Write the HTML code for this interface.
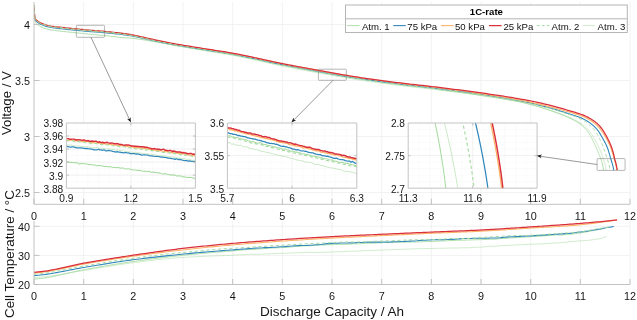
<!DOCTYPE html>
<html><head><meta charset="utf-8"><title>1C-rate discharge</title>
<style>html,body{margin:0;padding:0;background:#fff;}svg{display:block}</style></head>
<body>
<svg width="637" height="320" viewBox="0 0 637 320" font-family="Liberation Sans, Arial, sans-serif" fill="#161616">
<rect width="637" height="320" fill="#fff"/>
<path d="M83.67,2.0 V204.3 M133.34,2.0 V204.3 M183.01,2.0 V204.3 M232.68,2.0 V204.3 M282.35,2.0 V204.3 M332.02,2.0 V204.3 M381.69,2.0 V204.3 M431.36,2.0 V204.3 M481.03,2.0 V204.3 M530.70,2.0 V204.3 M580.37,2.0 V204.3 M630.04,2.0 V204.3 M34.0,192.50 H630.04 M34.0,136.50 H630.04 M34.0,80.50 H630.04 M34.0,24.50 H630.04" stroke="#ededed" stroke-width="0.7" fill="none"/>
<path d="M83.67,221.0 V284.5 M133.34,221.0 V284.5 M183.01,221.0 V284.5 M232.68,221.0 V284.5 M282.35,221.0 V284.5 M332.02,221.0 V284.5 M381.69,221.0 V284.5 M431.36,221.0 V284.5 M481.03,221.0 V284.5 M530.70,221.0 V284.5 M580.37,221.0 V284.5 M630.04,221.0 V284.5 M34.0,255.40 H630.04 M34.0,226.30 H630.04" stroke="#ededed" stroke-width="0.7" fill="none"/>
<clipPath id="ct"><rect x="34.0" y="0" width="596.04" height="204.3"/></clipPath>
<g clip-path="url(#ct)">
<path d="M34.20,5.00 L34.40,13.78 L34.60,17.95 L34.80,20.30 L35.00,21.10 L35.20,21.66 L35.40,22.08 L35.60,22.43 L35.80,22.76 L36.00,23.04 L36.20,23.30 L36.40,23.53 L36.60,23.73 L36.80,23.93 L37.00,24.11 L37.20,24.29 L37.40,24.47 L37.60,24.64 L37.80,24.81 L38.00,24.97 L38.20,25.13 L38.40,25.29 L38.60,25.44 L38.80,25.59 L39.00,25.73 L39.20,25.87 L39.40,26.00 L39.60,26.13 L39.80,26.26 L40.00,26.38 L41.81,27.30 L43.61,28.00 L45.42,28.62 L47.22,29.14 L49.03,29.56 L50.84,29.91 L52.64,30.18 L54.45,30.42 L56.25,30.65 L58.06,30.87 L59.87,31.09 L61.67,31.29 L63.48,31.49 L65.28,31.69 L67.09,31.88 L68.90,32.06 L70.70,32.24 L72.51,32.42 L74.31,32.60 L76.12,32.77 L77.93,32.95 L79.73,33.14 L81.54,33.33 L83.34,33.52 L85.15,33.71 L86.96,33.90 L88.76,34.09 L90.57,34.27 L92.37,34.44 L94.18,34.61 L95.99,34.78 L97.79,34.95 L99.60,35.12 L101.40,35.29 L103.21,35.46 L105.02,35.64 L106.82,35.83 L108.63,36.02 L110.43,36.22 L112.24,36.43 L114.05,36.64 L115.85,36.85 L117.66,37.07 L119.46,37.30 L121.27,37.51 L123.08,37.66 L124.88,37.76 L126.69,37.85 L128.49,37.95 L130.30,38.09 L132.11,38.26 L133.91,38.45 L135.72,38.67 L137.53,38.91 L139.33,39.18 L141.14,39.46 L142.94,39.75 L144.75,40.05 L146.56,40.34 L148.36,40.63 L150.17,40.93 L151.97,41.24 L153.78,41.55 L155.59,41.86 L157.39,42.18 L159.20,42.50 L161.00,42.83 L162.81,43.16 L164.62,43.48 L166.42,43.81 L168.23,44.13 L170.03,44.45 L171.84,44.77 L173.65,45.09 L175.45,45.41 L177.26,45.73 L179.06,46.04 L180.87,46.35 L182.68,46.65 L184.48,46.95 L186.29,47.25 L188.09,47.54 L189.90,47.83 L191.71,48.12 L193.51,48.42 L195.32,48.71 L197.12,49.00 L198.93,49.28 L200.74,49.57 L202.54,49.86 L204.35,50.14 L206.15,50.43 L207.96,50.71 L209.77,51.00 L211.57,51.28 L213.38,51.56 L215.18,51.84 L216.99,52.11 L218.80,52.39 L220.60,52.67 L222.41,52.95 L224.21,53.24 L226.02,53.53 L227.83,53.83 L229.63,54.14 L231.44,54.45 L233.24,54.78 L235.05,55.11 L236.86,55.45 L238.66,55.80 L240.47,56.16 L242.27,56.51 L244.08,56.88 L245.89,57.25 L247.69,57.62 L249.50,58.00 L251.30,58.40 L253.11,58.79 L254.92,59.19 L256.72,59.59 L258.53,60.00 L260.33,60.39 L262.14,60.79 L263.95,61.19 L265.75,61.59 L267.56,61.99 L269.36,62.39 L271.17,62.78 L272.98,63.18 L274.78,63.57 L276.59,63.95 L278.39,64.32 L280.20,64.69 L282.01,65.06 L283.81,65.42 L285.62,65.78 L287.42,66.14 L289.23,66.49 L291.04,66.84 L292.84,67.19 L294.65,67.53 L296.45,67.87 L298.26,68.21 L300.07,68.55 L301.87,68.88 L303.68,69.21 L305.48,69.54 L307.29,69.88 L309.10,70.21 L310.90,70.54 L312.71,70.87 L314.52,71.20 L316.32,71.53 L318.13,71.86 L319.93,72.18 L321.74,72.51 L323.55,72.84 L325.35,73.16 L327.16,73.49 L328.96,73.81 L330.77,74.14 L332.58,74.47 L334.38,74.79 L336.19,75.12 L337.99,75.45 L339.80,75.77 L341.61,76.09 L343.41,76.41 L345.22,76.72 L347.02,77.02 L348.83,77.32 L350.64,77.62 L352.44,77.91 L354.25,78.20 L356.05,78.49 L357.86,78.77 L359.67,79.05 L361.47,79.33 L363.28,79.60 L365.08,79.86 L366.89,80.13 L368.70,80.39 L370.50,80.64 L372.31,80.90 L374.11,81.15 L375.92,81.40 L377.73,81.66 L379.53,81.91 L381.34,82.17 L383.14,82.42 L384.95,82.68 L386.76,82.93 L388.56,83.18 L390.37,83.42 L392.17,83.67 L393.98,83.91 L395.79,84.14 L397.59,84.38 L399.40,84.61 L401.20,84.84 L403.01,85.07 L404.82,85.29 L406.62,85.52 L408.43,85.74 L410.23,85.96 L412.04,86.17 L413.85,86.39 L415.65,86.60 L417.46,86.81 L419.26,87.01 L421.07,87.22 L422.88,87.43 L424.68,87.65 L426.49,87.86 L428.29,88.08 L430.10,88.31 L431.91,88.54 L433.71,88.78 L435.52,89.02 L437.32,89.27 L439.13,89.52 L440.94,89.77 L442.74,90.02 L444.55,90.27 L446.35,90.51 L448.16,90.75 L449.97,90.99 L451.77,91.22 L453.58,91.46 L455.38,91.69 L457.19,91.93 L459.00,92.17 L460.80,92.41 L462.61,92.66 L464.41,92.92 L466.22,93.17 L468.03,93.43 L469.83,93.69 L471.64,93.96 L473.44,94.22 L475.25,94.49 L477.06,94.76 L478.86,95.04 L480.67,95.31 L482.47,95.59 L484.28,95.88 L486.09,96.16 L487.89,96.45 L489.70,96.73 L491.51,97.02 L493.31,97.31 L495.12,97.60 L496.92,97.88 L498.73,98.17 L500.54,98.46 L502.34,98.75 L504.15,99.05 L505.95,99.35 L507.76,99.66 L509.57,99.97 L511.37,100.29 L513.18,100.62 L514.98,100.96 L516.79,101.30 L518.60,101.64 L520.40,101.99 L522.21,102.42 L524.01,102.86 L525.82,103.31 L527.63,103.78 L529.43,104.25 L531.24,104.73 L533.04,105.22 L534.85,105.72 L536.66,106.24 L538.46,106.76 L540.27,107.30 L542.07,107.85 L543.88,108.41 L545.69,108.99 L547.49,109.58 L549.30,110.18 L551.10,110.81 L552.91,111.44 L554.72,112.09 L556.52,112.76 L558.33,113.44 L560.13,114.13 L561.94,114.83 L563.75,115.54 L565.55,116.28 L567.36,117.06 L569.16,117.87 L570.97,118.72 L572.78,119.61 L574.58,120.54 L576.39,121.55 L578.19,122.67 L580.00,123.90 L580.22,124.06 L580.43,124.22 L580.65,124.38 L580.87,124.55 L581.09,124.72 L581.30,124.89 L581.52,125.06 L581.74,125.24 L581.96,125.42 L582.17,125.60 L582.39,125.79 L582.61,125.98 L582.83,126.17 L583.04,126.36 L583.26,126.56 L583.48,126.76 L583.70,126.97 L583.91,127.18 L584.13,127.39 L584.35,127.60 L584.57,127.82 L584.78,128.05 L585.00,128.27 L585.22,128.50 L585.44,128.74 L585.65,128.98 L585.87,129.23 L586.09,129.49 L586.31,129.76 L586.52,130.03 L586.74,130.31 L586.96,130.60 L587.18,130.89 L587.39,131.19 L587.61,131.50 L587.83,131.81 L588.04,132.13 L588.26,132.45 L588.48,132.78 L588.70,133.11 L588.91,133.45 L589.13,133.79 L589.35,134.14 L589.57,134.49 L589.78,134.84 L590.00,135.20 L590.22,135.56 L590.44,135.92 L590.65,136.28 L590.87,136.65 L591.09,137.02 L591.31,137.40 L591.52,137.79 L591.74,138.19 L591.96,138.59 L592.18,139.00 L592.39,139.42 L592.61,139.84 L592.83,140.27 L593.05,140.71 L593.26,141.15 L593.48,141.60 L593.70,142.05 L593.92,142.51 L594.13,142.97 L594.35,143.43 L594.57,143.90 L594.79,144.37 L595.00,144.85 L595.22,145.32 L595.44,145.81 L595.66,146.30 L595.87,146.80 L596.09,147.31 L596.31,147.84 L596.52,148.36 L596.74,148.90 L596.96,149.44 L597.18,149.98 L597.39,150.52 L597.61,151.06 L597.83,151.61 L598.05,152.15 L598.26,152.68 L598.48,153.21 L598.70,153.74 L598.92,154.24 L599.13,154.73 L599.35,155.21 L599.57,155.68 L599.79,156.16 L600.00,156.64 L600.22,157.14 L600.44,157.65 L600.66,158.20 L600.87,158.77 L601.09,159.37 L601.31,160.03 L601.53,160.73 L601.74,161.48 L601.96,162.29 L602.18,163.15 L602.40,164.04 L602.61,164.99 L602.83,165.96 L603.05,166.98 L603.27,168.02 L603.48,169.10 L603.70,170.20" fill="none" stroke="#A6DBA0" stroke-width="0.90" stroke-opacity="1" stroke-linejoin="round"/>
<path d="M34.20,5.00 L34.40,12.82 L34.60,16.13 L34.80,18.10 L35.00,18.87 L35.20,19.42 L35.40,19.83 L35.60,20.18 L35.80,20.49 L36.00,20.77 L36.20,21.03 L36.40,21.25 L36.60,21.45 L36.80,21.64 L37.00,21.82 L37.20,21.98 L37.40,22.15 L37.60,22.31 L37.80,22.46 L38.00,22.62 L38.20,22.76 L38.40,22.91 L38.60,23.05 L38.80,23.19 L39.00,23.32 L39.20,23.45 L39.40,23.57 L39.60,23.69 L39.80,23.81 L40.00,23.92 L41.81,24.80 L43.61,25.51 L45.42,26.12 L47.22,26.64 L49.03,27.07 L50.84,27.42 L52.64,27.70 L54.45,27.94 L56.25,28.16 L58.06,28.39 L59.87,28.60 L61.67,28.81 L63.48,29.01 L65.28,29.21 L67.09,29.40 L68.90,29.58 L70.70,29.76 L72.51,29.94 L74.31,30.12 L76.12,30.29 L77.93,30.47 L79.73,30.65 L81.54,30.82 L83.34,31.00 L85.15,31.16 L86.96,31.33 L88.76,31.49 L90.57,31.63 L92.37,31.78 L94.18,31.91 L95.99,32.04 L97.79,32.18 L99.60,32.31 L101.40,32.45 L103.21,32.60 L105.02,32.75 L106.82,32.92 L108.63,33.09 L110.43,33.27 L112.24,33.45 L114.05,33.64 L115.85,33.83 L117.66,34.04 L119.46,34.25 L121.27,34.46 L123.08,34.69 L124.88,34.93 L126.69,35.18 L128.49,35.44 L130.30,35.72 L132.11,36.02 L133.91,36.35 L135.72,36.72 L137.53,37.11 L139.33,37.52 L141.14,37.94 L142.94,38.36 L144.75,38.77 L146.56,39.16 L148.36,39.55 L150.17,39.95 L151.97,40.35 L153.78,40.74 L155.59,41.13 L157.39,41.52 L159.20,41.90 L161.00,42.27 L162.81,42.64 L164.62,42.99 L166.42,43.35 L168.23,43.70 L170.03,44.04 L171.84,44.38 L173.65,44.71 L175.45,45.03 L177.26,45.35 L179.06,45.67 L180.87,45.97 L182.68,46.27 L184.48,46.57 L186.29,46.86 L188.09,47.15 L189.90,47.44 L191.71,47.73 L193.51,48.02 L195.32,48.31 L197.12,48.60 L198.93,48.88 L200.74,49.17 L202.54,49.46 L204.35,49.74 L206.15,50.03 L207.96,50.31 L209.77,50.60 L211.57,50.88 L213.38,51.16 L215.18,51.44 L216.99,51.71 L218.80,51.99 L220.60,52.27 L222.41,52.55 L224.21,52.84 L226.02,53.13 L227.83,53.43 L229.63,53.74 L231.44,54.05 L233.24,54.38 L235.05,54.71 L236.86,55.05 L238.66,55.40 L240.47,55.75 L242.27,56.11 L244.08,56.47 L245.89,56.84 L247.69,57.21 L249.50,57.59 L251.30,57.98 L253.11,58.38 L254.92,58.77 L256.72,59.17 L258.53,59.57 L260.33,59.97 L262.14,60.36 L263.95,60.75 L265.75,61.15 L267.56,61.55 L269.36,61.94 L271.17,62.34 L272.98,62.73 L274.78,63.11 L276.59,63.49 L278.39,63.87 L280.20,64.23 L282.01,64.60 L283.81,64.96 L285.62,65.31 L287.42,65.66 L289.23,66.01 L291.04,66.36 L292.84,66.71 L294.65,67.05 L296.45,67.39 L298.26,67.72 L300.07,68.06 L301.87,68.39 L303.68,68.72 L305.48,69.05 L307.29,69.38 L309.10,69.71 L310.90,70.04 L312.71,70.37 L314.52,70.70 L316.32,71.03 L318.13,71.36 L319.93,71.68 L321.74,72.01 L323.55,72.34 L325.35,72.66 L327.16,72.99 L328.96,73.31 L330.77,73.64 L332.58,73.97 L334.38,74.29 L336.19,74.62 L337.99,74.95 L339.80,75.27 L341.61,75.59 L343.41,75.91 L345.22,76.22 L347.02,76.52 L348.83,76.82 L350.64,77.12 L352.44,77.41 L354.25,77.70 L356.05,77.98 L357.86,78.27 L359.67,78.54 L361.47,78.81 L363.28,79.08 L365.08,79.34 L366.89,79.60 L368.70,79.86 L370.50,80.11 L372.31,80.36 L374.11,80.61 L375.92,80.85 L377.73,81.10 L379.53,81.35 L381.34,81.60 L383.14,81.85 L384.95,82.09 L386.76,82.34 L388.56,82.58 L390.37,82.82 L392.17,83.05 L393.98,83.29 L395.79,83.51 L397.59,83.74 L399.40,83.96 L401.20,84.18 L403.01,84.40 L404.82,84.62 L406.62,84.84 L408.43,85.05 L410.23,85.26 L412.04,85.47 L413.85,85.67 L415.65,85.87 L417.46,86.07 L419.26,86.27 L421.07,86.47 L422.88,86.67 L424.68,86.88 L426.49,87.08 L428.29,87.29 L430.10,87.51 L431.91,87.73 L433.71,87.96 L435.52,88.20 L437.32,88.44 L439.13,88.68 L440.94,88.92 L442.74,89.15 L444.55,89.39 L446.35,89.62 L448.16,89.85 L449.97,90.07 L451.77,90.29 L453.58,90.51 L455.38,90.74 L457.19,90.96 L459.00,91.19 L460.80,91.42 L462.61,91.66 L464.41,91.90 L466.22,92.15 L468.03,92.39 L469.83,92.64 L471.64,92.90 L473.44,93.15 L475.25,93.41 L477.06,93.68 L478.86,93.94 L480.67,94.21 L482.47,94.48 L484.28,94.76 L486.09,95.04 L487.89,95.33 L489.70,95.62 L491.51,95.90 L493.31,96.19 L495.12,96.48 L496.92,96.78 L498.73,97.07 L500.54,97.36 L502.34,97.66 L504.15,97.96 L505.95,98.27 L507.76,98.59 L509.57,98.91 L511.37,99.24 L513.18,99.58 L514.98,99.93 L516.79,100.28 L518.60,100.63 L520.40,100.97 L522.21,101.31 L524.01,101.66 L525.82,102.03 L527.63,102.40 L529.43,102.79 L531.24,103.19 L533.04,103.60 L534.85,104.03 L536.66,104.48 L538.46,104.94 L540.27,105.41 L542.07,105.89 L543.88,106.37 L545.69,106.86 L547.49,107.34 L549.30,107.83 L551.10,108.32 L552.91,108.82 L554.72,109.33 L556.52,109.85 L558.33,110.39 L560.13,110.93 L561.94,111.49 L563.75,112.06 L565.55,112.64 L567.36,113.23 L569.16,113.82 L570.97,114.42 L572.78,115.00 L574.58,115.58 L576.39,116.17 L578.19,116.80 L580.00,117.48 L580.31,117.60 L580.62,117.73 L580.93,117.86 L581.24,117.99 L581.55,118.12 L581.86,118.26 L582.17,118.40 L582.48,118.54 L582.79,118.68 L583.10,118.83 L583.41,118.98 L583.72,119.14 L584.03,119.30 L584.34,119.46 L584.65,119.62 L584.96,119.79 L585.27,119.96 L585.58,120.13 L585.89,120.30 L586.20,120.48 L586.51,120.66 L586.82,120.85 L587.13,121.04 L587.44,121.23 L587.75,121.42 L588.06,121.62 L588.37,121.82 L588.68,122.02 L588.99,122.23 L589.30,122.44 L589.61,122.66 L589.92,122.88 L590.23,123.10 L590.54,123.33 L590.85,123.57 L591.16,123.81 L591.47,124.05 L591.78,124.30 L592.09,124.56 L592.40,124.82 L592.71,125.08 L593.02,125.35 L593.33,125.63 L593.64,125.91 L593.95,126.19 L594.26,126.48 L594.57,126.78 L594.88,127.08 L595.19,127.39 L595.50,127.72 L595.81,128.05 L596.12,128.39 L596.43,128.75 L596.74,129.11 L597.06,129.48 L597.37,129.87 L597.68,130.26 L597.99,130.67 L598.30,131.08 L598.61,131.51 L598.92,131.95 L599.23,132.40 L599.54,132.88 L599.85,133.37 L600.16,133.87 L600.47,134.39 L600.78,134.92 L601.09,135.45 L601.40,136.00 L601.71,136.55 L602.02,137.11 L602.33,137.67 L602.64,138.24 L602.95,138.80 L603.26,139.37 L603.57,139.93 L603.88,140.49 L604.19,141.05 L604.50,141.61 L604.81,142.18 L605.12,142.77 L605.43,143.36 L605.74,143.98 L606.05,144.61 L606.36,145.27 L606.67,145.96 L606.98,146.67 L607.29,147.42 L607.60,148.21 L607.91,149.08 L608.22,150.02 L608.53,151.01 L608.84,152.04 L609.15,153.11 L609.46,154.20 L609.77,155.29 L610.08,156.38 L610.39,157.45 L610.70,158.50 L611.01,159.50 L611.32,160.49 L611.63,161.47 L611.94,162.48 L612.25,163.54 L612.56,164.66 L612.87,165.89 L613.18,167.23 L613.49,168.68 L613.80,170.20" fill="none" stroke="#3288BD" stroke-width="1.10" stroke-opacity="1" stroke-linejoin="round"/>
<path d="M34.20,5.00 L34.40,12.44 L34.60,15.41 L34.80,17.20 L35.00,17.93 L35.20,18.44 L35.40,18.82 L35.60,19.14 L35.80,19.43 L36.00,19.70 L36.20,19.94 L36.40,20.15 L36.60,20.35 L36.80,20.53 L37.00,20.70 L37.20,20.87 L37.40,21.03 L37.60,21.19 L37.80,21.34 L38.00,21.49 L38.20,21.64 L38.40,21.78 L38.60,21.92 L38.80,22.05 L39.00,22.18 L39.20,22.31 L39.40,22.43 L39.60,22.55 L39.80,22.67 L40.00,22.78 L41.81,23.65 L43.61,24.36 L45.42,24.97 L47.22,25.50 L49.03,25.93 L50.84,26.27 L52.64,26.55 L54.45,26.79 L56.25,27.02 L58.06,27.25 L59.87,27.46 L61.67,27.67 L63.48,27.87 L65.28,28.07 L67.09,28.26 L68.90,28.45 L70.70,28.63 L72.51,28.81 L74.31,28.99 L76.12,29.16 L77.93,29.34 L79.73,29.52 L81.54,29.70 L83.34,29.88 L85.15,30.05 L86.96,30.22 L88.76,30.39 L90.57,30.54 L92.37,30.69 L94.18,30.84 L95.99,30.98 L97.79,31.12 L99.60,31.27 L101.40,31.42 L103.21,31.57 L105.02,31.74 L106.82,31.91 L108.63,32.09 L110.43,32.28 L112.24,32.47 L114.05,32.66 L115.85,32.87 L117.66,33.08 L119.46,33.30 L121.27,33.52 L123.08,33.76 L124.88,34.00 L126.69,34.26 L128.49,34.53 L130.30,34.81 L132.11,35.12 L133.91,35.46 L135.72,35.83 L137.53,36.22 L139.33,36.64 L141.14,37.06 L142.94,37.48 L144.75,37.89 L146.56,38.29 L148.36,38.68 L150.17,39.08 L151.97,39.48 L153.78,39.88 L155.59,40.27 L157.39,40.66 L159.20,41.05 L161.00,41.42 L162.81,41.78 L164.62,42.15 L166.42,42.50 L168.23,42.85 L170.03,43.20 L171.84,43.54 L173.65,43.88 L175.45,44.20 L177.26,44.53 L179.06,44.84 L180.87,45.15 L182.68,45.45 L184.48,45.75 L186.29,46.05 L188.09,46.34 L189.90,46.63 L191.71,46.92 L193.51,47.22 L195.32,47.51 L197.12,47.80 L198.93,48.08 L200.74,48.37 L202.54,48.66 L204.35,48.94 L206.15,49.23 L207.96,49.51 L209.77,49.80 L211.57,50.08 L213.38,50.36 L215.18,50.64 L216.99,50.91 L218.80,51.19 L220.60,51.47 L222.41,51.75 L224.21,52.04 L226.02,52.33 L227.83,52.63 L229.63,52.94 L231.44,53.25 L233.24,53.58 L235.05,53.91 L236.86,54.25 L238.66,54.60 L240.47,54.95 L242.27,55.31 L244.08,55.67 L245.89,56.04 L247.69,56.41 L249.50,56.79 L251.30,57.18 L253.11,57.58 L254.92,57.97 L256.72,58.37 L258.53,58.77 L260.33,59.17 L262.14,59.56 L263.95,59.95 L265.75,60.35 L267.56,60.75 L269.36,61.14 L271.17,61.54 L272.98,61.93 L274.78,62.31 L276.59,62.69 L278.39,63.07 L280.20,63.43 L282.01,63.80 L283.81,64.16 L285.62,64.51 L287.42,64.86 L289.23,65.21 L291.04,65.56 L292.84,65.91 L294.65,66.25 L296.45,66.59 L298.26,66.92 L300.07,67.26 L301.87,67.59 L303.68,67.92 L305.48,68.25 L307.29,68.58 L309.10,68.91 L310.90,69.24 L312.71,69.57 L314.52,69.90 L316.32,70.23 L318.13,70.56 L319.93,70.88 L321.74,71.21 L323.55,71.54 L325.35,71.86 L327.16,72.19 L328.96,72.51 L330.77,72.84 L332.58,73.17 L334.38,73.49 L336.19,73.82 L337.99,74.15 L339.80,74.47 L341.61,74.79 L343.41,75.11 L345.22,75.42 L347.02,75.72 L348.83,76.02 L350.64,76.32 L352.44,76.61 L354.25,76.90 L356.05,77.19 L357.86,77.47 L359.67,77.75 L361.47,78.02 L363.28,78.29 L365.08,78.55 L366.89,78.81 L368.70,79.06 L370.50,79.32 L372.31,79.57 L374.11,79.82 L375.92,80.07 L377.73,80.32 L379.53,80.57 L381.34,80.82 L383.14,81.07 L384.95,81.32 L386.76,81.57 L388.56,81.81 L390.37,82.05 L392.17,82.29 L393.98,82.52 L395.79,82.75 L397.59,82.98 L399.40,83.21 L401.20,83.43 L403.01,83.66 L404.82,83.88 L406.62,84.09 L408.43,84.31 L410.23,84.52 L412.04,84.73 L413.85,84.94 L415.65,85.15 L417.46,85.35 L419.26,85.55 L421.07,85.75 L422.88,85.96 L424.68,86.16 L426.49,86.37 L428.29,86.59 L430.10,86.81 L431.91,87.04 L433.71,87.27 L435.52,87.51 L437.32,87.75 L439.13,88.00 L440.94,88.24 L442.74,88.49 L444.55,88.73 L446.35,88.96 L448.16,89.20 L449.97,89.43 L451.77,89.65 L453.58,89.88 L455.38,90.11 L457.19,90.34 L459.00,90.58 L460.80,90.82 L462.61,91.06 L464.41,91.31 L466.22,91.56 L468.03,91.81 L469.83,92.07 L471.64,92.33 L473.44,92.59 L475.25,92.85 L477.06,93.12 L478.86,93.39 L480.67,93.66 L482.47,93.94 L484.28,94.22 L486.09,94.50 L487.89,94.78 L489.70,95.07 L491.51,95.35 L493.31,95.64 L495.12,95.92 L496.92,96.20 L498.73,96.49 L500.54,96.78 L502.34,97.07 L504.15,97.36 L505.95,97.66 L507.76,97.97 L509.57,98.28 L511.37,98.60 L513.18,98.93 L514.98,99.26 L516.79,99.60 L518.60,99.94 L520.40,100.27 L522.21,100.60 L524.01,100.94 L525.82,101.29 L527.63,101.65 L529.43,102.01 L531.24,102.39 L533.04,102.77 L534.85,103.16 L536.66,103.57 L538.46,103.98 L540.27,104.41 L542.07,104.85 L543.88,105.30 L545.69,105.76 L547.49,106.21 L549.30,106.67 L551.10,107.12 L552.91,107.58 L554.72,108.04 L556.52,108.51 L558.33,108.98 L560.13,109.46 L561.94,109.95 L563.75,110.45 L565.55,110.95 L567.36,111.47 L569.16,111.99 L570.97,112.53 L572.78,113.07 L574.58,113.63 L576.39,114.18 L578.19,114.74 L580.00,115.35 L580.34,115.47 L580.68,115.59 L581.02,115.71 L581.36,115.84 L581.69,115.97 L582.03,116.10 L582.37,116.24 L582.71,116.38 L583.05,116.52 L583.39,116.66 L583.73,116.81 L584.07,116.96 L584.41,117.11 L584.75,117.27 L585.08,117.42 L585.42,117.58 L585.76,117.75 L586.10,117.92 L586.44,118.09 L586.78,118.26 L587.12,118.43 L587.46,118.61 L587.80,118.79 L588.14,118.98 L588.47,119.17 L588.81,119.36 L589.15,119.55 L589.49,119.75 L589.83,119.95 L590.17,120.15 L590.51,120.36 L590.85,120.58 L591.19,120.80 L591.53,121.03 L591.86,121.27 L592.20,121.51 L592.54,121.75 L592.88,122.00 L593.22,122.26 L593.56,122.52 L593.90,122.79 L594.24,123.06 L594.58,123.33 L594.92,123.61 L595.25,123.90 L595.59,124.18 L595.93,124.48 L596.27,124.78 L596.61,125.09 L596.95,125.41 L597.29,125.74 L597.63,126.07 L597.97,126.42 L598.31,126.77 L598.64,127.14 L598.98,127.51 L599.32,127.89 L599.66,128.29 L600.00,128.71 L600.34,129.14 L600.68,129.59 L601.02,130.05 L601.36,130.53 L601.70,131.01 L602.03,131.51 L602.37,132.01 L602.71,132.52 L603.05,133.03 L603.39,133.55 L603.73,134.07 L604.07,134.61 L604.41,135.16 L604.75,135.72 L605.09,136.29 L605.42,136.86 L605.76,137.45 L606.10,138.05 L606.44,138.66 L606.78,139.28 L607.12,139.90 L607.46,140.52 L607.80,141.16 L608.14,141.81 L608.48,142.47 L608.81,143.16 L609.15,143.86 L609.49,144.60 L609.83,145.36 L610.17,146.15 L610.51,146.99 L610.85,147.88 L611.19,148.81 L611.53,149.78 L611.87,150.78 L612.20,151.83 L612.54,152.90 L612.88,154.03 L613.22,155.24 L613.56,156.51 L613.90,157.80 L614.24,159.08 L614.58,160.32 L614.92,161.50 L615.26,162.65 L615.59,163.83 L615.93,165.12 L616.27,166.59 L616.61,168.31 L616.95,170.20" fill="none" stroke="#FDB366" stroke-width="1.10" stroke-opacity="1" stroke-linejoin="round"/>
<path d="M34.20,5.00 L34.40,12.40 L34.60,15.33 L34.80,17.10 L35.00,17.82 L35.20,18.32 L35.40,18.69 L35.60,19.00 L35.80,19.29 L36.00,19.55 L36.20,19.78 L36.40,19.99 L36.60,20.18 L36.80,20.35 L37.00,20.52 L37.20,20.68 L37.40,20.84 L37.60,20.99 L37.80,21.14 L38.00,21.28 L38.20,21.43 L38.40,21.56 L38.60,21.70 L38.80,21.83 L39.00,21.96 L39.20,22.08 L39.40,22.20 L39.60,22.32 L39.80,22.43 L40.00,22.54 L41.84,23.42 L43.68,24.13 L45.52,24.75 L47.36,25.27 L49.20,25.70 L51.04,26.04 L52.88,26.32 L54.72,26.56 L56.56,26.78 L58.39,27.01 L60.23,27.23 L62.07,27.44 L63.91,27.64 L65.75,27.84 L67.59,28.03 L69.43,28.22 L71.27,28.40 L73.11,28.58 L74.95,28.76 L76.79,28.94 L78.63,29.12 L80.47,29.30 L82.31,29.48 L84.15,29.66 L85.99,29.83 L87.83,30.00 L89.67,30.17 L91.51,30.32 L93.34,30.47 L95.18,30.62 L97.02,30.76 L98.86,30.91 L100.70,31.06 L102.54,31.21 L104.38,31.38 L106.22,31.55 L108.06,31.73 L109.90,31.92 L111.74,32.11 L113.58,32.31 L115.42,32.52 L117.26,32.73 L119.10,32.95 L120.94,33.18 L122.78,33.42 L124.62,33.66 L126.45,33.92 L128.29,34.20 L130.13,34.49 L131.97,34.80 L133.81,35.14 L135.65,35.51 L137.49,35.91 L139.33,36.34 L141.17,36.77 L143.01,37.19 L144.85,37.61 L146.69,38.02 L148.53,38.42 L150.37,38.83 L152.21,39.23 L154.05,39.64 L155.89,40.04 L157.73,40.43 L159.57,40.82 L161.40,41.20 L163.24,41.57 L165.08,41.94 L166.92,42.30 L168.76,42.66 L170.60,43.01 L172.44,43.35 L174.28,43.69 L176.12,44.03 L177.96,44.35 L179.80,44.67 L181.64,44.98 L183.48,45.29 L185.32,45.59 L187.16,45.89 L189.00,46.19 L190.84,46.48 L192.68,46.78 L194.52,47.08 L196.35,47.37 L198.19,47.67 L200.03,47.96 L201.87,48.25 L203.71,48.54 L205.55,48.83 L207.39,49.12 L209.23,49.42 L211.07,49.70 L212.91,49.99 L214.75,50.27 L216.59,50.55 L218.43,50.83 L220.27,51.12 L222.11,51.40 L223.95,51.69 L225.79,51.99 L227.63,52.29 L229.46,52.61 L231.30,52.93 L233.14,53.26 L234.98,53.60 L236.82,53.95 L238.66,54.30 L240.50,54.66 L242.34,55.02 L244.18,55.39 L246.02,55.77 L247.86,56.15 L249.70,56.54 L251.54,56.93 L253.38,57.34 L255.22,57.74 L257.06,58.15 L258.90,58.55 L260.74,58.96 L262.58,59.36 L264.41,59.76 L266.25,60.16 L268.09,60.57 L269.93,60.97 L271.77,61.37 L273.61,61.77 L275.45,62.16 L277.29,62.54 L279.13,62.92 L280.97,63.29 L282.81,63.66 L284.65,64.02 L286.49,64.38 L288.33,64.74 L290.17,65.10 L292.01,65.45 L293.85,65.80 L295.69,66.15 L297.53,66.49 L299.36,66.83 L301.20,67.17 L303.04,67.50 L304.88,67.84 L306.72,68.17 L308.56,68.51 L310.40,68.85 L312.24,69.18 L314.08,69.52 L315.92,69.85 L317.76,70.19 L319.60,70.52 L321.44,70.86 L323.28,71.19 L325.12,71.52 L326.96,71.85 L328.80,72.18 L330.64,72.51 L332.47,72.85 L334.31,73.18 L336.15,73.52 L337.99,73.85 L339.83,74.18 L341.67,74.51 L343.51,74.83 L345.35,75.14 L347.19,75.45 L349.03,75.75 L350.87,76.06 L352.71,76.35 L354.55,76.65 L356.39,76.94 L358.23,77.22 L360.07,77.50 L361.91,77.78 L363.75,78.04 L365.59,78.31 L367.42,78.57 L369.26,78.83 L371.10,79.08 L372.94,79.33 L374.78,79.58 L376.62,79.83 L378.46,80.09 L380.30,80.34 L382.14,80.59 L383.98,80.84 L385.82,81.09 L387.66,81.33 L389.50,81.57 L391.34,81.81 L393.18,82.05 L395.02,82.28 L396.86,82.51 L398.70,82.73 L400.54,82.96 L402.37,83.18 L404.21,83.40 L406.05,83.61 L407.89,83.83 L409.73,84.04 L411.57,84.25 L413.41,84.46 L415.25,84.66 L417.09,84.86 L418.93,85.06 L420.77,85.26 L422.61,85.46 L424.45,85.66 L426.29,85.87 L428.13,86.08 L429.97,86.30 L431.81,86.52 L433.65,86.75 L435.48,86.98 L437.32,87.22 L439.16,87.46 L441.00,87.70 L442.84,87.94 L444.68,88.17 L446.52,88.40 L448.36,88.63 L450.20,88.85 L452.04,89.07 L453.88,89.28 L455.72,89.50 L457.56,89.72 L459.40,89.95 L461.24,90.18 L463.08,90.41 L464.92,90.65 L466.76,90.89 L468.60,91.14 L470.43,91.38 L472.27,91.63 L474.11,91.89 L475.95,92.14 L477.79,92.40 L479.63,92.66 L481.47,92.92 L483.31,93.19 L485.15,93.46 L486.99,93.73 L488.83,94.01 L490.67,94.28 L492.51,94.56 L494.35,94.83 L496.19,95.11 L498.03,95.38 L499.87,95.66 L501.71,95.93 L503.55,96.21 L505.38,96.50 L507.22,96.79 L509.06,97.09 L510.90,97.40 L512.74,97.72 L514.58,98.04 L516.42,98.36 L518.26,98.69 L520.10,99.02 L521.94,99.34 L523.78,99.67 L525.62,99.99 L527.46,100.32 L529.30,100.66 L531.14,101.01 L532.98,101.38 L534.82,101.76 L536.66,102.15 L538.49,102.56 L540.33,102.98 L542.17,103.41 L544.01,103.84 L545.85,104.28 L547.69,104.72 L549.53,105.18 L551.37,105.64 L553.21,106.11 L555.05,106.59 L556.89,107.08 L558.73,107.58 L560.57,108.10 L562.41,108.63 L564.25,109.18 L566.09,109.73 L567.93,110.28 L569.77,110.84 L571.61,111.39 L573.44,111.93 L575.28,112.47 L577.12,113.03 L578.96,113.61 L580.80,114.25 L582.64,114.94 L584.48,115.69 L586.32,116.52 L588.16,117.42 L590.00,118.43 L590.27,118.59 L590.55,118.75 L590.82,118.92 L591.10,119.09 L591.37,119.26 L591.65,119.44 L591.92,119.61 L592.20,119.79 L592.47,119.98 L592.75,120.16 L593.02,120.35 L593.30,120.55 L593.57,120.74 L593.85,120.94 L594.12,121.14 L594.40,121.35 L594.67,121.55 L594.95,121.76 L595.22,121.97 L595.49,122.19 L595.77,122.41 L596.04,122.63 L596.32,122.86 L596.59,123.09 L596.87,123.33 L597.14,123.57 L597.42,123.81 L597.69,124.07 L597.97,124.32 L598.24,124.58 L598.52,124.85 L598.79,125.12 L599.07,125.40 L599.34,125.69 L599.62,125.98 L599.89,126.28 L600.17,126.59 L600.44,126.91 L600.72,127.25 L600.99,127.60 L601.26,127.96 L601.54,128.33 L601.81,128.72 L602.09,129.11 L602.36,129.52 L602.64,129.93 L602.91,130.34 L603.19,130.77 L603.46,131.19 L603.74,131.63 L604.01,132.06 L604.29,132.50 L604.56,132.94 L604.84,133.40 L605.11,133.86 L605.39,134.33 L605.66,134.80 L605.94,135.29 L606.21,135.78 L606.48,136.28 L606.76,136.79 L607.03,137.30 L607.31,137.83 L607.58,138.36 L607.86,138.91 L608.13,139.46 L608.41,140.02 L608.68,140.58 L608.96,141.15 L609.23,141.73 L609.51,142.33 L609.78,142.93 L610.06,143.55 L610.33,144.18 L610.61,144.84 L610.88,145.52 L611.16,146.22 L611.43,146.95 L611.71,147.71 L611.98,148.52 L612.25,149.36 L612.53,150.26 L612.80,151.19 L613.08,152.17 L613.35,153.18 L613.63,154.23 L613.90,155.31 L614.18,156.51 L614.45,157.81 L614.73,159.01 L615.00,160.06 L615.28,161.01 L615.55,161.96 L615.83,162.96 L616.10,164.10 L616.38,165.42 L616.65,166.90 L616.93,168.50 L617.20,170.20" fill="none" stroke="#DA2F3C" stroke-width="1.25" stroke-opacity="1" stroke-linejoin="round"/>
<path d="M34.20,5.00 L34.40,12.48 L34.60,15.49 L34.80,17.30 L35.00,18.03 L35.20,18.54 L35.40,18.91 L35.60,19.23 L35.80,19.52 L36.00,19.79 L36.20,20.02 L36.40,20.24 L36.60,20.43 L36.80,20.61 L37.00,20.78 L37.20,20.95 L37.40,21.11 L37.60,21.26 L37.80,21.41 L38.00,21.56 L38.20,21.71 L38.40,21.85 L38.60,21.98 L38.80,22.12 L39.00,22.24 L39.20,22.37 L39.40,22.49 L39.60,22.61 L39.80,22.73 L40.00,22.84 L41.81,23.70 L43.61,24.40 L45.42,25.02 L47.22,25.54 L49.03,25.96 L50.84,26.31 L52.64,26.58 L54.45,26.82 L56.25,27.05 L58.06,27.27 L59.87,27.49 L61.67,27.69 L63.48,27.89 L65.28,28.09 L67.09,28.28 L68.90,28.46 L70.70,28.64 L72.51,28.82 L74.31,29.00 L76.12,29.17 L77.93,29.35 L79.73,29.53 L81.54,29.71 L83.34,29.88 L85.15,30.06 L86.96,30.23 L88.76,30.39 L90.57,30.55 L92.37,30.71 L94.18,30.85 L95.99,31.00 L97.79,31.15 L99.60,31.29 L101.40,31.45 L103.21,31.61 L105.02,31.78 L106.82,31.96 L108.63,32.14 L110.43,32.33 L112.24,32.54 L114.05,32.75 L115.85,32.97 L117.66,33.20 L119.46,33.43 L121.27,33.68 L123.08,33.94 L124.88,34.20 L126.69,34.48 L128.49,34.78 L130.30,35.08 L132.11,35.41 L133.91,35.76 L135.72,36.15 L137.53,36.57 L139.33,37.00 L141.14,37.44 L142.94,37.88 L144.75,38.31 L146.56,38.73 L148.36,39.14 L150.17,39.56 L151.97,39.98 L153.78,40.39 L155.59,40.80 L157.39,41.21 L159.20,41.61 L161.00,42.00 L162.81,42.38 L164.62,42.76 L166.42,43.13 L168.23,43.50 L170.03,43.86 L171.84,44.22 L173.65,44.57 L175.45,44.92 L177.26,45.25 L179.06,45.58 L180.87,45.91 L182.68,46.23 L184.48,46.54 L186.29,46.85 L188.09,47.15 L189.90,47.46 L191.71,47.76 L193.51,48.07 L195.32,48.37 L197.12,48.68 L198.93,48.98 L200.74,49.28 L202.54,49.57 L204.35,49.87 L206.15,50.17 L207.96,50.47 L209.77,50.76 L211.57,51.06 L213.38,51.35 L215.18,51.63 L216.99,51.92 L218.80,52.21 L220.60,52.50 L222.41,52.79 L224.21,53.09 L226.02,53.39 L227.83,53.70 L229.63,54.02 L231.44,54.35 L233.24,54.68 L235.05,55.03 L236.86,55.38 L238.66,55.73 L240.47,56.09 L242.27,56.46 L244.08,56.83 L245.89,57.20 L247.69,57.58 L249.50,57.97 L251.30,58.37 L253.11,58.77 L254.92,59.17 L256.72,59.57 L258.53,59.98 L260.33,60.38 L262.14,60.77 L263.95,61.17 L265.75,61.57 L267.56,61.97 L269.36,62.38 L271.17,62.77 L272.98,63.17 L274.78,63.56 L276.59,63.94 L278.39,64.32 L280.20,64.69 L282.01,65.06 L283.81,65.42 L285.62,65.78 L287.42,66.13 L289.23,66.49 L291.04,66.84 L292.84,67.19 L294.65,67.53 L296.45,67.87 L298.26,68.21 L300.07,68.55 L301.87,68.88 L303.68,69.21 L305.48,69.54 L307.29,69.88 L309.10,70.21 L310.90,70.54 L312.71,70.87 L314.52,71.20 L316.32,71.53 L318.13,71.85 L319.93,72.18 L321.74,72.50 L323.55,72.82 L325.35,73.14 L327.16,73.46 L328.96,73.78 L330.77,74.09 L332.58,74.41 L334.38,74.73 L336.19,75.05 L337.99,75.37 L339.80,75.69 L341.61,76.00 L343.41,76.31 L345.22,76.62 L347.02,76.92 L348.83,77.22 L350.64,77.52 L352.44,77.81 L354.25,78.10 L356.05,78.39 L357.86,78.67 L359.67,78.95 L361.47,79.22 L363.28,79.49 L365.08,79.75 L366.89,80.01 L368.70,80.27 L370.50,80.52 L372.31,80.77 L374.11,81.02 L375.92,81.27 L377.73,81.52 L379.53,81.78 L381.34,82.03 L383.14,82.28 L384.95,82.53 L386.76,82.77 L388.56,83.02 L390.37,83.26 L392.17,83.50 L393.98,83.73 L395.79,83.96 L397.59,84.19 L399.40,84.42 L401.20,84.64 L403.01,84.86 L404.82,85.08 L406.62,85.30 L408.43,85.52 L410.23,85.73 L412.04,85.94 L413.85,86.15 L415.65,86.35 L417.46,86.55 L419.26,86.76 L421.07,86.96 L422.88,87.16 L424.68,87.37 L426.49,87.58 L428.29,87.79 L430.10,88.01 L431.91,88.23 L433.71,88.47 L435.52,88.70 L437.32,88.94 L439.13,89.19 L440.94,89.43 L442.74,89.67 L444.55,89.90 L446.35,90.14 L448.16,90.36 L449.97,90.59 L451.77,90.81 L453.58,91.03 L455.38,91.26 L457.19,91.48 L459.00,91.71 L460.80,91.94 L462.61,92.18 L464.41,92.42 L466.22,92.66 L468.03,92.91 L469.83,93.16 L471.64,93.41 L473.44,93.67 L475.25,93.92 L477.06,94.18 L478.86,94.44 L480.67,94.71 L482.47,94.98 L484.28,95.25 L486.09,95.52 L487.89,95.80 L489.70,96.08 L491.51,96.35 L493.31,96.63 L495.12,96.91 L496.92,97.18 L498.73,97.46 L500.54,97.74 L502.34,98.02 L504.15,98.31 L505.95,98.60 L507.76,98.89 L509.57,99.20 L511.37,99.51 L513.18,99.83 L514.98,100.15 L516.79,100.48 L518.60,100.81 L520.40,101.14 L522.21,101.50 L524.01,101.87 L525.82,102.25 L527.63,102.64 L529.43,103.05 L531.24,103.47 L533.04,103.90 L534.85,104.34 L536.66,104.81 L538.46,105.28 L540.27,105.76 L542.07,106.25 L543.88,106.74 L545.69,107.23 L547.49,107.73 L549.30,108.23 L551.10,108.74 L552.91,109.27 L554.72,109.80 L556.52,110.35 L558.33,110.92 L560.13,111.49 L561.94,112.08 L563.75,112.68 L565.55,113.29 L567.36,113.90 L569.16,114.52 L570.97,115.13 L572.78,115.74 L574.58,116.38 L576.39,117.07 L578.19,117.82 L580.00,118.65 L580.28,118.78 L580.55,118.92 L580.83,119.06 L581.11,119.20 L581.38,119.34 L581.66,119.49 L581.94,119.64 L582.21,119.79 L582.49,119.94 L582.77,120.10 L583.04,120.26 L583.32,120.42 L583.60,120.58 L583.87,120.74 L584.15,120.91 L584.43,121.08 L584.70,121.25 L584.98,121.43 L585.26,121.60 L585.53,121.78 L585.81,121.97 L586.09,122.15 L586.36,122.34 L586.64,122.53 L586.92,122.73 L587.20,122.93 L587.47,123.13 L587.75,123.34 L588.03,123.55 L588.30,123.77 L588.58,123.99 L588.86,124.21 L589.13,124.44 L589.41,124.68 L589.69,124.91 L589.96,125.16 L590.24,125.41 L590.52,125.66 L590.79,125.92 L591.07,126.18 L591.35,126.45 L591.62,126.73 L591.90,127.01 L592.18,127.30 L592.45,127.61 L592.73,127.92 L593.01,128.23 L593.28,128.56 L593.56,128.90 L593.84,129.24 L594.11,129.60 L594.39,129.96 L594.67,130.33 L594.94,130.71 L595.22,131.10 L595.50,131.49 L595.77,131.90 L596.05,132.34 L596.33,132.79 L596.60,133.26 L596.88,133.74 L597.16,134.23 L597.43,134.74 L597.71,135.25 L597.99,135.77 L598.26,136.29 L598.54,136.81 L598.82,137.34 L599.09,137.87 L599.37,138.40 L599.65,138.94 L599.92,139.49 L600.20,140.05 L600.48,140.63 L600.76,141.21 L601.03,141.81 L601.31,142.42 L601.59,143.05 L601.86,143.70 L602.14,144.38 L602.42,145.07 L602.69,145.79 L602.97,146.51 L603.25,147.26 L603.52,148.01 L603.80,148.77 L604.08,149.53 L604.35,150.30 L604.63,151.08 L604.91,151.87 L605.18,152.68 L605.46,153.49 L605.74,154.32 L606.01,155.15 L606.29,155.99 L606.57,156.84 L606.84,157.68 L607.12,158.51 L607.40,159.34 L607.67,160.18 L607.95,161.04 L608.23,161.94 L608.50,162.89 L608.78,163.90 L609.06,165.00 L609.33,166.20 L609.61,167.47 L609.89,168.81 L610.16,170.20" fill="none" stroke="#A6DBA0" stroke-width="1.00" stroke-opacity="1" stroke-linejoin="round" stroke-dasharray="3.3 2.5"/>
<path d="M34.20,5.00 L34.40,12.56 L34.60,15.64 L34.80,17.50 L35.00,18.25 L35.20,18.78 L35.40,19.17 L35.60,19.50 L35.80,19.81 L36.00,20.09 L36.20,20.34 L36.40,20.57 L36.60,20.78 L36.80,20.97 L37.00,21.15 L37.20,21.32 L37.40,21.50 L37.60,21.66 L37.80,21.82 L38.00,21.98 L38.20,22.13 L38.40,22.28 L38.60,22.42 L38.80,22.56 L39.00,22.69 L39.20,22.83 L39.40,22.95 L39.60,23.08 L39.80,23.19 L40.00,23.31 L41.81,24.20 L43.61,24.93 L45.42,25.56 L47.22,26.10 L49.03,26.54 L50.84,26.90 L52.64,27.19 L54.45,27.44 L56.25,27.68 L58.06,27.91 L59.87,28.14 L61.67,28.36 L63.48,28.56 L65.28,28.77 L67.09,28.96 L68.90,29.15 L70.70,29.34 L72.51,29.52 L74.31,29.69 L76.12,29.87 L77.93,30.05 L79.73,30.23 L81.54,30.41 L83.34,30.58 L85.15,30.75 L86.96,30.92 L88.76,31.09 L90.57,31.24 L92.37,31.39 L94.18,31.54 L95.99,31.68 L97.79,31.82 L99.60,31.97 L101.40,32.12 L103.21,32.27 L105.02,32.44 L106.82,32.61 L108.63,32.79 L110.43,32.98 L112.24,33.17 L114.05,33.38 L115.85,33.60 L117.66,33.82 L119.46,34.06 L121.27,34.30 L123.08,34.55 L124.88,34.82 L126.69,35.09 L128.49,35.38 L130.30,35.69 L132.11,36.01 L133.91,36.36 L135.72,36.75 L137.53,37.16 L139.33,37.59 L141.14,38.03 L142.94,38.47 L144.75,38.90 L146.56,39.32 L148.36,39.73 L150.17,40.15 L151.97,40.57 L153.78,40.98 L155.59,41.40 L157.39,41.80 L159.20,42.21 L161.00,42.60 L162.81,42.98 L164.62,43.36 L166.42,43.74 L168.23,44.11 L170.03,44.48 L171.84,44.84 L173.65,45.19 L175.45,45.54 L177.26,45.89 L179.06,46.22 L180.87,46.55 L182.68,46.88 L184.48,47.19 L186.29,47.51 L188.09,47.82 L189.90,48.13 L191.71,48.44 L193.51,48.75 L195.32,49.06 L197.12,49.37 L198.93,49.67 L200.74,49.98 L202.54,50.28 L204.35,50.58 L206.15,50.88 L207.96,51.18 L209.77,51.48 L211.57,51.78 L213.38,52.07 L215.18,52.36 L216.99,52.65 L218.80,52.94 L220.60,53.23 L222.41,53.53 L224.21,53.83 L226.02,54.13 L227.83,54.44 L229.63,54.76 L231.44,55.09 L233.24,55.43 L235.05,55.78 L236.86,56.13 L238.66,56.49 L240.47,56.85 L242.27,57.22 L244.08,57.59 L245.89,57.97 L247.69,58.36 L249.50,58.75 L251.30,59.15 L253.11,59.55 L254.92,59.96 L256.72,60.37 L258.53,60.78 L260.33,61.19 L262.14,61.59 L263.95,62.00 L265.75,62.41 L267.56,62.81 L269.36,63.22 L271.17,63.63 L272.98,64.03 L274.78,64.43 L276.59,64.82 L278.39,65.21 L280.20,65.58 L282.01,65.96 L283.81,66.33 L285.62,66.70 L287.42,67.06 L289.23,67.42 L291.04,67.78 L292.84,68.14 L294.65,68.49 L296.45,68.83 L298.26,69.18 L300.07,69.52 L301.87,69.86 L303.68,70.20 L305.48,70.53 L307.29,70.87 L309.10,71.20 L310.90,71.53 L312.71,71.87 L314.52,72.20 L316.32,72.53 L318.13,72.86 L319.93,73.18 L321.74,73.51 L323.55,73.84 L325.35,74.16 L327.16,74.49 L328.96,74.81 L330.77,75.14 L332.58,75.47 L334.38,75.79 L336.19,76.12 L337.99,76.45 L339.80,76.77 L341.61,77.09 L343.41,77.41 L345.22,77.72 L347.02,78.02 L348.83,78.32 L350.64,78.62 L352.44,78.91 L354.25,79.20 L356.05,79.48 L357.86,79.76 L359.67,80.04 L361.47,80.31 L363.28,80.58 L365.08,80.84 L366.89,81.09 L368.70,81.35 L370.50,81.60 L372.31,81.85 L374.11,82.09 L375.92,82.34 L377.73,82.59 L379.53,82.83 L381.34,83.08 L383.14,83.33 L384.95,83.57 L386.76,83.81 L388.56,84.05 L390.37,84.29 L392.17,84.52 L393.98,84.75 L395.79,84.98 L397.59,85.20 L399.40,85.42 L401.20,85.64 L403.01,85.85 L404.82,86.07 L406.62,86.28 L408.43,86.49 L410.23,86.70 L412.04,86.90 L413.85,87.10 L415.65,87.30 L417.46,87.50 L419.26,87.69 L421.07,87.89 L422.88,88.09 L424.68,88.29 L426.49,88.49 L428.29,88.70 L430.10,88.91 L431.91,89.13 L433.71,89.36 L435.52,89.59 L437.32,89.82 L439.13,90.06 L440.94,90.29 L442.74,90.53 L444.55,90.76 L446.35,90.98 L448.16,91.20 L449.97,91.42 L451.77,91.63 L453.58,91.85 L455.38,92.06 L457.19,92.28 L459.00,92.50 L460.80,92.72 L462.61,92.95 L464.41,93.19 L466.22,93.42 L468.03,93.66 L469.83,93.90 L471.64,94.15 L473.44,94.39 L475.25,94.64 L477.06,94.89 L478.86,95.15 L480.67,95.41 L482.47,95.67 L484.28,95.94 L486.09,96.20 L487.89,96.48 L489.70,96.75 L491.51,97.03 L493.31,97.30 L495.12,97.58 L496.92,97.85 L498.73,98.13 L500.54,98.41 L502.34,98.70 L504.15,98.98 L505.95,99.28 L507.76,99.58 L509.57,99.88 L511.37,100.20 L513.18,100.52 L514.98,100.85 L516.79,101.18 L518.60,101.51 L520.40,101.86 L522.21,102.29 L524.01,102.73 L525.82,103.17 L527.63,103.63 L529.43,104.09 L531.24,104.56 L533.04,105.05 L534.85,105.54 L536.66,106.05 L538.46,106.56 L540.27,107.09 L542.07,107.63 L543.88,108.18 L545.69,108.75 L547.49,109.32 L549.30,109.91 L551.10,110.51 L552.91,111.13 L554.72,111.76 L556.52,112.40 L558.33,113.06 L560.13,113.73 L561.94,114.40 L563.75,115.08 L565.55,115.77 L567.36,116.48 L569.16,117.23 L570.97,118.01 L572.78,118.84 L574.58,119.71 L576.39,120.64 L578.19,121.65 L580.00,122.76 L580.24,122.92 L580.48,123.07 L580.72,123.23 L580.97,123.40 L581.21,123.56 L581.45,123.73 L581.69,123.90 L581.93,124.07 L582.17,124.25 L582.42,124.43 L582.66,124.61 L582.90,124.79 L583.14,124.97 L583.38,125.16 L583.62,125.36 L583.86,125.55 L584.11,125.75 L584.35,125.95 L584.59,126.15 L584.83,126.36 L585.07,126.57 L585.31,126.79 L585.56,127.01 L585.80,127.24 L586.04,127.47 L586.28,127.71 L586.52,127.95 L586.76,128.20 L587.00,128.46 L587.25,128.71 L587.49,128.98 L587.73,129.25 L587.97,129.52 L588.21,129.80 L588.45,130.08 L588.69,130.37 L588.94,130.66 L589.18,130.95 L589.42,131.25 L589.66,131.55 L589.90,131.86 L590.14,132.19 L590.39,132.52 L590.63,132.85 L590.87,133.20 L591.11,133.56 L591.35,133.92 L591.59,134.28 L591.83,134.65 L592.08,135.03 L592.32,135.41 L592.56,135.79 L592.80,136.18 L593.04,136.57 L593.28,136.96 L593.53,137.35 L593.77,137.75 L594.01,138.15 L594.25,138.56 L594.49,138.98 L594.73,139.39 L594.97,139.82 L595.22,140.25 L595.46,140.68 L595.70,141.12 L595.94,141.56 L596.18,142.01 L596.42,142.46 L596.67,142.92 L596.91,143.39 L597.15,143.86 L597.39,144.33 L597.63,144.81 L597.87,145.29 L598.11,145.79 L598.36,146.28 L598.60,146.79 L598.84,147.30 L599.08,147.82 L599.32,148.35 L599.56,148.88 L599.80,149.43 L600.05,149.98 L600.29,150.54 L600.53,151.12 L600.77,151.71 L601.01,152.31 L601.25,152.91 L601.50,153.53 L601.74,154.16 L601.98,154.81 L602.22,155.46 L602.46,156.12 L602.70,156.79 L602.94,157.47 L603.19,158.15 L603.43,158.83 L603.67,159.52 L603.91,160.23 L604.15,160.97 L604.39,161.74 L604.64,162.55 L604.88,163.41 L605.12,164.33 L605.36,165.36 L605.60,166.47 L605.84,167.66 L606.08,168.91 L606.33,170.20" fill="none" stroke="#A6DBA0" stroke-width="0.80" stroke-opacity="0.65" stroke-linejoin="round"/>
</g>
<path d="M34.0,2.0 V204.3 H630.04 M34.00,204.3 v-5.5 M83.67,204.3 v-5.5 M133.34,204.3 v-5.5 M183.01,204.3 v-5.5 M232.68,204.3 v-5.5 M282.35,204.3 v-5.5 M332.02,204.3 v-5.5 M381.69,204.3 v-5.5 M431.36,204.3 v-5.5 M481.03,204.3 v-5.5 M530.70,204.3 v-5.5 M580.37,204.3 v-5.5 M630.04,204.3 v-5.5 M34.0,192.50 h5.5 M34.0,136.50 h5.5 M34.0,80.50 h5.5 M34.0,24.50 h5.5" stroke="#bcbcbc" stroke-width="0.9" fill="none"/>
<g font-size="10.8" text-anchor="middle">
<text x="34.00" y="220.1">0</text>
<text x="83.67" y="220.1">1</text>
<text x="133.34" y="220.1">2</text>
<text x="183.01" y="220.1">3</text>
<text x="232.68" y="220.1">4</text>
<text x="282.35" y="220.1">5</text>
<text x="332.02" y="220.1">6</text>
<text x="381.69" y="220.1">7</text>
<text x="431.36" y="220.1">8</text>
<text x="481.03" y="220.1">9</text>
<text x="530.70" y="220.1">10</text>
<text x="580.37" y="220.1">11</text>
<text x="630.04" y="220.1">12</text>
</g>
<g font-size="10.8" text-anchor="end">
<text x="30" y="197.40">2.5</text>
<text x="30" y="141.40">3</text>
<text x="30" y="85.40">3.5</text>
<text x="30" y="29.40">4</text>
</g>
<text transform="translate(10.9,103.1) rotate(-90)" font-size="13.2" text-anchor="middle">Voltage / V</text>
<g>
<path d="M34.00,277.80 L36.21,277.63 L38.42,277.45 L40.63,277.23 L42.84,276.99 L45.05,276.72 L47.26,276.44 L49.48,276.14 L51.69,275.82 L53.90,275.48 L56.11,275.14 L58.32,274.78 L60.53,274.42 L62.74,274.04 L64.95,273.67 L67.16,273.28 L69.37,272.90 L71.58,272.52 L73.79,272.13 L76.01,271.76 L78.22,271.38 L80.43,271.02 L82.64,270.66 L84.85,270.31 L87.06,269.96 L89.27,269.61 L91.48,269.25 L93.69,268.88 L95.90,268.52 L98.11,268.15 L100.32,267.78 L102.54,267.41 L104.75,267.04 L106.96,266.67 L109.17,266.31 L111.38,265.95 L113.59,265.59 L115.80,265.24 L118.01,264.89 L120.22,264.55 L122.43,264.22 L124.64,263.89 L126.85,263.57 L129.06,263.26 L131.28,262.97 L133.49,262.68 L135.70,262.40 L137.91,262.12 L140.12,261.84 L142.33,261.56 L144.54,261.28 L146.75,261.01 L148.96,260.74 L151.17,260.47 L153.38,260.21 L155.59,259.95 L157.81,259.69 L160.02,259.44 L162.23,259.20 L164.44,258.97 L166.65,258.74 L168.86,258.51 L171.07,258.31 L173.28,258.10 L175.49,257.92 L177.70,257.74 L179.91,257.60 L182.12,257.44 L184.34,257.28 L186.55,257.16 L188.76,257.05 L190.97,256.94 L193.18,256.85 L195.39,256.75 L197.60,256.65 L199.81,256.52 L202.02,256.40 L204.23,256.29 L206.44,256.20 L208.65,256.11 L210.86,256.01 L213.08,255.95 L215.29,255.87 L217.50,255.80 L219.71,255.71 L221.92,255.66 L224.13,255.61 L226.34,255.55 L228.55,255.44 L230.76,255.33 L232.97,255.16 L235.18,255.01 L237.39,254.88 L239.61,254.77 L241.82,254.65 L244.03,254.64 L246.24,254.50 L248.45,254.44 L250.66,254.35 L252.87,254.35 L255.08,254.35 L257.29,254.27 L259.50,254.27 L261.71,254.20 L263.92,253.97 L266.14,253.93 L268.35,253.89 L270.56,253.75 L272.77,253.66 L274.98,253.55 L277.19,253.54 L279.40,253.44 L281.61,253.34 L283.82,253.30 L286.03,253.23 L288.24,253.05 L290.45,252.97 L292.66,252.91 L294.88,252.77 L297.09,252.70 L299.30,252.52 L301.51,252.50 L303.72,252.42 L305.93,252.42 L308.14,252.49 L310.35,252.41 L312.56,252.41 L314.77,252.56 L316.98,252.45 L319.19,252.48 L321.41,252.36 L323.62,252.29 L325.83,252.24 L328.04,252.14 L330.25,252.16 L332.46,251.97 L334.67,251.77 L336.88,251.62 L339.09,251.64 L341.30,251.57 L343.51,251.61 L345.72,251.46 L347.94,251.37 L350.15,251.28 L352.36,251.21 L354.57,251.17 L356.78,251.14 L358.99,250.96 L361.20,250.80 L363.41,250.61 L365.62,250.63 L367.83,250.55 L370.04,250.42 L372.25,250.39 L374.46,250.39 L376.68,250.25 L378.89,250.17 L381.10,250.13 L383.31,250.00 L385.52,249.86 L387.73,249.82 L389.94,249.80 L392.15,249.65 L394.36,249.51 L396.57,249.48 L398.78,249.40 L400.99,249.29 L403.21,249.24 L405.42,249.20 L407.63,249.08 L409.84,249.02 L412.05,248.98 L414.26,248.84 L416.47,248.76 L418.68,248.73 L420.89,248.70 L423.10,248.69 L425.31,248.54 L427.52,248.57 L429.74,248.52 L431.95,248.47 L434.16,248.40 L436.37,248.28 L438.58,248.24 L440.79,248.25 L443.00,248.19 L445.21,248.17 L447.42,248.09 L449.63,248.04 L451.84,248.02 L454.05,247.97 L456.26,248.09 L458.48,247.90 L460.69,247.84 L462.90,247.82 L465.11,247.78 L467.32,247.78 L469.53,247.76 L471.74,247.57 L473.95,247.43 L476.16,247.31 L478.37,247.25 L480.58,247.12 L482.79,247.06 L485.01,246.82 L487.22,246.48 L489.43,246.31 L491.64,246.28 L493.85,246.26 L496.06,246.11 L498.27,246.01 L500.48,245.80 L502.69,245.62 L504.90,245.54 L507.11,245.45 L509.32,245.34 L511.54,245.21 L513.75,245.12 L515.96,244.93 L518.17,244.81 L520.38,244.72 L522.59,244.54 L524.80,244.49 L527.01,244.41 L529.22,244.28 L531.43,244.17 L533.64,244.15 L535.85,244.00 L538.06,243.98 L540.28,243.92 L542.49,243.85 L544.70,243.64 L546.91,243.54 L549.12,243.44 L551.33,243.30 L553.54,243.06 L555.75,243.00 L557.96,242.89 L560.17,242.76 L562.38,242.49 L564.59,242.40 L566.81,242.16 L569.02,241.76 L571.23,241.57 L573.44,241.48 L575.65,241.33 L577.86,241.00 L580.07,240.75 L582.28,240.75 L584.49,240.56 L586.70,240.41 L588.91,240.31 L591.12,240.02 L593.34,239.65 L595.55,239.33 L597.76,239.04 L599.97,238.61 L602.18,238.07 L604.39,237.40 L606.60,236.49" fill="none" stroke="#A6DBA0" stroke-width="0.80" stroke-opacity="0.65" stroke-linejoin="round"/>
<path d="M34.00,279.10 L36.20,278.94 L38.40,278.76 L40.60,278.53 L42.80,278.26 L45.00,277.95 L47.20,277.60 L49.40,277.22 L51.60,276.80 L53.80,276.37 L56.00,275.91 L58.20,275.43 L60.40,274.94 L62.60,274.43 L64.80,273.92 L67.00,273.41 L69.20,272.90 L71.40,272.39 L73.60,271.89 L75.80,271.40 L78.00,270.92 L80.20,270.47 L82.40,270.04 L84.60,269.63 L86.80,269.23 L89.00,268.83 L91.20,268.43 L93.40,268.04 L95.60,267.64 L97.80,267.25 L100.00,266.87 L102.20,266.48 L104.40,266.10 L106.60,265.72 L108.80,265.35 L111.00,264.98 L113.20,264.62 L115.40,264.25 L117.60,263.90 L119.80,263.55 L122.00,263.20 L124.20,262.86 L126.40,262.52 L128.60,262.19 L130.80,261.87 L133.00,261.55 L135.20,261.24 L137.40,260.92 L139.60,260.62 L141.80,260.31 L144.00,260.01 L146.20,259.71 L148.40,259.42 L150.60,259.13 L152.80,258.84 L155.00,258.56 L157.20,258.28 L159.40,258.00 L161.60,257.73 L163.80,257.45 L166.00,257.20 L168.20,256.93 L170.40,256.66 L172.60,256.43 L174.80,256.18 L177.00,255.96 L179.20,255.74 L181.40,255.52 L183.60,255.31 L185.80,255.05 L188.00,254.84 L190.20,254.63 L192.40,254.41 L194.60,254.18 L196.80,253.95 L199.00,253.69 L201.20,253.50 L203.40,253.31 L205.60,253.15 L207.80,252.96 L210.00,252.72 L212.20,252.51 L214.40,252.35 L216.60,252.18 L218.80,252.03 L221.00,251.90 L223.20,251.74 L225.40,251.57 L227.60,251.33 L229.80,251.18 L232.00,250.95 L234.20,250.72 L236.40,250.59 L238.60,250.43 L240.80,250.19 L243.00,249.94 L245.20,249.76 L247.40,249.64 L249.60,249.49 L251.80,249.51 L254.00,249.43 L256.20,249.21 L258.40,248.97 L260.60,248.83 L262.80,248.75 L265.00,248.57 L267.20,248.46 L269.40,248.23 L271.60,248.03 L273.80,247.93 L276.00,247.89 L278.20,247.78 L280.40,247.67 L282.60,247.54 L284.80,247.44 L287.00,247.28 L289.20,247.13 L291.40,246.84 L293.60,246.68 L295.80,246.46 L298.00,246.36 L300.20,246.25 L302.40,246.01 L304.60,245.85 L306.80,245.74 L309.00,245.71 L311.20,245.64 L313.40,245.53 L315.60,245.43 L317.80,245.22 L320.00,244.98 L322.20,245.02 L324.40,244.98 L326.60,244.75 L328.80,244.71 L331.00,244.67 L333.20,244.60 L335.40,244.47 L337.60,244.44 L339.80,244.35 L342.00,244.38 L344.20,244.26 L346.40,244.40 L348.60,244.20 L350.80,244.11 L353.00,243.85 L355.20,243.79 L357.40,243.80 L359.60,243.72 L361.80,243.57 L364.00,243.54 L366.20,243.31 L368.40,243.26 L370.60,243.15 L372.80,243.19 L375.00,243.11 L377.20,242.94 L379.40,242.93 L381.60,242.73 L383.80,242.57 L386.00,242.56 L388.20,242.58 L390.40,242.44 L392.60,242.38 L394.80,242.31 L397.00,242.23 L399.20,242.24 L401.40,242.21 L403.60,242.31 L405.80,242.20 L408.00,242.11 L410.20,242.12 L412.40,242.01 L414.60,242.02 L416.80,242.00 L419.00,241.92 L421.20,241.89 L423.40,241.66 L425.60,241.63 L427.80,241.54 L430.00,241.55 L432.20,241.47 L434.40,241.36 L436.60,241.19 L438.80,241.13 L441.00,241.00 L443.20,240.88 L445.40,240.82 L447.60,240.81 L449.80,240.59 L452.00,240.51 L454.20,240.40 L456.40,240.37 L458.60,240.28 L460.80,240.22 L463.00,240.21 L465.20,240.17 L467.40,239.98 L469.60,240.02 L471.80,239.95 L474.00,239.83 L476.20,239.70 L478.40,239.70 L480.60,239.64 L482.80,239.60 L485.00,239.46 L487.20,239.41 L489.40,239.28 L491.60,239.35 L493.80,239.24 L496.00,239.14 L498.20,238.84 L500.40,238.66 L502.60,238.56 L504.80,238.48 L507.00,238.28 L509.20,238.06 L511.40,237.78 L513.60,237.79 L515.80,237.57 L518.00,237.53 L520.20,237.40 L522.40,237.27 L524.60,237.01 L526.80,236.91 L529.00,236.76 L531.20,236.57 L533.40,236.43 L535.60,236.51 L537.80,236.32 L540.00,236.20 L542.20,235.88 L544.40,235.79 L546.60,235.67 L548.80,235.62 L551.00,235.53 L553.20,235.24 L555.40,235.03 L557.60,234.90 L559.80,234.88 L562.00,234.94 L564.20,234.78 L566.40,234.56 L568.60,234.37 L570.80,234.14 L573.00,233.95 L575.20,233.72 L577.40,233.42 L579.60,233.13 L581.80,232.73 L584.00,232.38 L586.20,231.98 L588.40,231.48 L590.60,230.99 L592.80,230.59 L595.00,230.16 L597.20,229.84 L599.40,229.42 L601.60,228.96 L603.80,228.57" fill="none" stroke="#A6DBA0" stroke-width="0.90" stroke-opacity="1" stroke-linejoin="round"/>
<path d="M34.00,275.60 L36.24,275.43 L38.48,275.24 L40.72,275.02 L42.95,274.76 L45.19,274.47 L47.43,274.15 L49.67,273.81 L51.91,273.44 L54.15,273.06 L56.39,272.66 L58.62,272.24 L60.86,271.82 L63.10,271.38 L65.34,270.95 L67.58,270.50 L69.82,270.06 L72.06,269.62 L74.29,269.19 L76.53,268.77 L78.77,268.35 L81.01,267.95 L83.25,267.57 L85.49,267.20 L87.73,266.83 L89.97,266.45 L92.20,266.08 L94.44,265.70 L96.68,265.33 L98.92,264.96 L101.16,264.59 L103.40,264.22 L105.64,263.85 L107.87,263.48 L110.11,263.12 L112.35,262.76 L114.59,262.41 L116.83,262.06 L119.07,261.72 L121.31,261.38 L123.54,261.05 L125.78,260.73 L128.02,260.42 L130.26,260.11 L132.50,259.81 L134.74,259.52 L136.98,259.23 L139.21,258.96 L141.45,258.68 L143.69,258.41 L145.93,258.15 L148.17,257.88 L150.41,257.63 L152.65,257.38 L154.88,257.13 L157.12,256.88 L159.36,256.63 L161.60,256.40 L163.84,256.16 L166.08,255.92 L168.32,255.66 L170.56,255.42 L172.79,255.19 L175.03,254.95 L177.27,254.70 L179.51,254.49 L181.75,254.26 L183.99,254.04 L186.23,253.80 L188.46,253.60 L190.70,253.39 L192.94,253.13 L195.18,252.92 L197.42,252.75 L199.66,252.55 L201.90,252.35 L204.13,252.16 L206.37,251.97 L208.61,251.77 L210.85,251.57 L213.09,251.43 L215.33,251.23 L217.57,251.05 L219.80,250.90 L222.04,250.67 L224.28,250.45 L226.52,250.27 L228.76,250.13 L231.00,249.94 L233.24,249.85 L235.47,249.66 L237.71,249.48 L239.95,249.25 L242.19,249.14 L244.43,249.04 L246.67,248.84 L248.91,248.61 L251.15,248.50 L253.38,248.27 L255.62,248.12 L257.86,248.04 L260.10,247.94 L262.34,247.80 L264.58,247.60 L266.82,247.60 L269.05,247.50 L271.29,247.41 L273.53,247.27 L275.77,247.18 L278.01,247.01 L280.25,246.81 L282.49,246.68 L284.72,246.58 L286.96,246.33 L289.20,246.20 L291.44,245.97 L293.68,245.92 L295.92,245.78 L298.16,245.59 L300.39,245.55 L302.63,245.50 L304.87,245.45 L307.11,245.36 L309.35,245.22 L311.59,245.19 L313.83,244.98 L316.06,244.82 L318.30,244.71 L320.54,244.53 L322.78,244.22 L325.02,243.87 L327.26,243.66 L329.50,243.58 L331.74,243.34 L333.97,243.24 L336.21,243.22 L338.45,243.16 L340.69,243.02 L342.93,243.02 L345.17,242.99 L347.41,242.97 L349.64,242.79 L351.88,242.84 L354.12,242.77 L356.36,242.64 L358.60,242.51 L360.84,242.45 L363.08,242.39 L365.31,242.28 L367.55,242.17 L369.79,242.14 L372.03,242.15 L374.27,242.14 L376.51,242.11 L378.75,242.10 L380.98,242.16 L383.22,242.02 L385.46,242.02 L387.70,242.08 L389.94,242.05 L392.18,241.86 L394.42,241.69 L396.65,241.73 L398.89,241.71 L401.13,241.54 L403.37,241.51 L405.61,241.33 L407.85,241.21 L410.09,241.09 L412.33,240.99 L414.56,240.98 L416.80,240.76 L419.04,240.47 L421.28,240.38 L423.52,240.21 L425.76,240.23 L428.00,240.07 L430.23,239.98 L432.47,239.74 L434.71,239.69 L436.95,239.65 L439.19,239.74 L441.43,239.76 L443.67,239.73 L445.90,239.56 L448.14,239.47 L450.38,239.34 L452.62,239.37 L454.86,239.23 L457.10,239.01 L459.34,238.89 L461.57,238.60 L463.81,238.53 L466.05,238.55 L468.29,238.51 L470.53,238.49 L472.77,238.40 L475.01,238.27 L477.24,238.20 L479.48,238.09 L481.72,238.20 L483.96,238.20 L486.20,238.19 L488.44,238.15 L490.68,238.01 L492.92,238.02 L495.15,237.95 L497.39,237.93 L499.63,237.81 L501.87,237.58 L504.11,237.32 L506.35,237.12 L508.59,236.89 L510.82,236.78 L513.06,236.71 L515.30,236.59 L517.54,236.45 L519.78,236.37 L522.02,236.28 L524.26,236.11 L526.49,235.97 L528.73,235.97 L530.97,235.87 L533.21,235.61 L535.45,235.58 L537.69,235.43 L539.93,235.27 L542.16,235.08 L544.40,235.11 L546.64,234.88 L548.88,234.65 L551.12,234.47 L553.36,234.37 L555.60,234.18 L557.83,234.17 L560.07,233.92 L562.31,233.84 L564.55,233.58 L566.79,233.49 L569.03,233.39 L571.27,233.18 L573.51,232.82 L575.74,232.56 L577.98,232.17 L580.22,232.00 L582.46,231.71 L584.70,231.42 L586.94,231.18 L589.18,230.74 L591.41,230.32 L593.65,230.03 L595.89,229.64 L598.13,229.29 L600.37,228.99 L602.61,228.56 L604.85,228.03 L607.08,227.58 L609.32,227.18 L611.56,226.87 L613.80,226.50" fill="none" stroke="#3288BD" stroke-width="1.10" stroke-opacity="1" stroke-linejoin="round"/>
<path d="M34.00,273.00 L36.25,272.83 L38.50,272.64 L40.75,272.41 L43.00,272.14 L45.25,271.82 L47.50,271.48 L49.75,271.09 L52.00,270.69 L54.26,270.25 L56.51,269.80 L58.76,269.33 L61.01,268.85 L63.26,268.36 L65.51,267.86 L67.76,267.36 L70.01,266.86 L72.26,266.37 L74.51,265.89 L76.76,265.42 L79.01,264.97 L81.26,264.54 L83.51,264.13 L85.76,263.74 L88.01,263.35 L90.26,262.96 L92.52,262.58 L94.77,262.20 L97.02,261.82 L99.27,261.45 L101.52,261.08 L103.77,260.71 L106.02,260.34 L108.27,259.98 L110.52,259.62 L112.77,259.27 L115.02,258.92 L117.27,258.57 L119.52,258.23 L121.77,257.89 L124.02,257.55 L126.27,257.22 L128.52,256.89 L130.77,256.56 L133.03,256.24 L135.28,255.93 L137.53,255.61 L139.78,255.30 L142.03,255.00 L144.28,254.69 L146.53,254.39 L148.78,254.09 L151.03,253.79 L153.28,253.50 L155.53,253.21 L157.78,252.92 L160.03,252.64 L162.28,252.35 L164.53,252.08 L166.78,251.80 L169.03,251.53 L171.29,251.26 L173.54,250.99 L175.79,250.73 L178.04,250.47 L180.29,250.21 L182.54,249.95 L184.79,249.70 L187.04,249.45 L189.29,249.20 L191.54,248.96 L193.79,248.71 L196.04,248.47 L198.29,248.23 L200.54,248.00 L202.79,247.76 L205.04,247.53 L207.29,247.30 L209.55,247.07 L211.80,246.85 L214.05,246.63 L216.30,246.41 L218.55,246.19 L220.80,245.98 L223.05,245.77 L225.30,245.56 L227.55,245.35 L229.80,245.15 L232.05,244.95 L234.30,244.76 L236.55,244.57 L238.80,244.38 L241.05,244.19 L243.30,244.00 L245.55,243.82 L247.81,243.64 L250.06,243.46 L252.31,243.28 L254.56,243.11 L256.81,242.93 L259.06,242.76 L261.31,242.59 L263.56,242.43 L265.81,242.26 L268.06,242.10 L270.31,241.94 L272.56,241.78 L274.81,241.62 L277.06,241.46 L279.31,241.31 L281.56,241.15 L283.81,241.00 L286.06,240.85 L288.32,240.70 L290.57,240.56 L292.82,240.41 L295.07,240.27 L297.32,240.13 L299.57,239.99 L301.82,239.85 L304.07,239.71 L306.32,239.57 L308.57,239.44 L310.82,239.31 L313.07,239.17 L315.32,239.04 L317.57,238.91 L319.82,238.78 L322.07,238.65 L324.32,238.53 L326.58,238.40 L328.83,238.28 L331.08,238.15 L333.33,238.03 L335.58,237.91 L337.83,237.79 L340.08,237.67 L342.33,237.55 L344.58,237.43 L346.83,237.31 L349.08,237.20 L351.33,237.09 L353.58,236.97 L355.83,236.86 L358.08,236.75 L360.33,236.64 L362.58,236.53 L364.84,236.42 L367.09,236.31 L369.34,236.20 L371.59,236.09 L373.84,235.98 L376.09,235.87 L378.34,235.76 L380.59,235.65 L382.84,235.54 L385.09,235.44 L387.34,235.33 L389.59,235.22 L391.84,235.11 L394.09,235.01 L396.34,234.90 L398.59,234.80 L400.84,234.69 L403.09,234.58 L405.35,234.48 L407.60,234.38 L409.85,234.27 L412.10,234.17 L414.35,234.06 L416.60,233.96 L418.85,233.86 L421.10,233.76 L423.35,233.66 L425.60,233.56 L427.85,233.46 L430.10,233.36 L432.35,233.26 L434.60,233.16 L436.85,233.06 L439.10,232.97 L441.35,232.88 L443.61,232.79 L445.86,232.70 L448.11,232.61 L450.36,232.52 L452.61,232.43 L454.86,232.34 L457.11,232.25 L459.36,232.16 L461.61,232.07 L463.86,231.98 L466.11,231.88 L468.36,231.79 L470.61,231.69 L472.86,231.59 L475.11,231.49 L477.36,231.38 L479.61,231.27 L481.87,231.16 L484.12,231.04 L486.37,230.92 L488.62,230.79 L490.87,230.67 L493.12,230.53 L495.37,230.40 L497.62,230.26 L499.87,230.12 L502.12,229.98 L504.37,229.83 L506.62,229.69 L508.87,229.54 L511.12,229.39 L513.37,229.24 L515.62,229.09 L517.87,228.94 L520.13,228.79 L522.38,228.64 L524.63,228.50 L526.88,228.35 L529.13,228.20 L531.38,228.06 L533.63,227.91 L535.88,227.78 L538.13,227.64 L540.38,227.51 L542.63,227.37 L544.88,227.24 L547.13,227.11 L549.38,226.98 L551.63,226.85 L553.88,226.71 L556.13,226.57 L558.38,226.43 L560.64,226.29 L562.89,226.14 L565.14,225.99 L567.39,225.84 L569.64,225.67 L571.89,225.50 L574.14,225.33 L576.39,225.15 L578.64,224.95 L580.89,224.75 L583.14,224.52 L585.39,224.26 L587.64,223.98 L589.89,223.69 L592.14,223.41 L594.39,223.13 L596.64,222.85 L598.90,222.56 L601.15,222.27 L603.40,221.98 L605.65,221.68 L607.90,221.37 L610.15,221.06 L612.40,220.75 L614.65,220.43 L616.90,220.10" fill="none" stroke="#FDB366" stroke-width="1.10" stroke-opacity="1" stroke-linejoin="round"/>
<path d="M34.00,272.30 L36.25,272.14 L38.50,271.94 L40.75,271.71 L43.01,271.43 L45.26,271.12 L47.51,270.76 L49.76,270.37 L52.01,269.95 L54.26,269.51 L56.51,269.04 L58.76,268.56 L61.02,268.07 L63.27,267.56 L65.52,267.05 L67.77,266.54 L70.02,266.02 L72.27,265.52 L74.52,265.03 L76.78,264.54 L79.03,264.08 L81.28,263.64 L83.53,263.22 L85.78,262.83 L88.03,262.43 L90.28,262.04 L92.54,261.66 L94.79,261.27 L97.04,260.90 L99.29,260.52 L101.54,260.15 L103.79,259.78 L106.04,259.41 L108.29,259.05 L110.55,258.69 L112.80,258.33 L115.05,257.98 L117.30,257.63 L119.55,257.28 L121.80,256.94 L124.05,256.59 L126.31,256.25 L128.56,255.91 L130.81,255.58 L133.06,255.24 L135.31,254.91 L137.56,254.58 L139.81,254.24 L142.06,253.91 L144.32,253.58 L146.57,253.26 L148.82,252.93 L151.07,252.61 L153.32,252.28 L155.57,251.97 L157.82,251.65 L160.08,251.34 L162.33,251.03 L164.58,250.72 L166.83,250.42 L169.08,250.13 L171.33,249.83 L173.58,249.55 L175.84,249.26 L178.09,248.99 L180.34,248.71 L182.59,248.45 L184.84,248.19 L187.09,247.93 L189.34,247.68 L191.59,247.43 L193.85,247.18 L196.10,246.94 L198.35,246.70 L200.60,246.46 L202.85,246.23 L205.10,246.00 L207.35,245.77 L209.61,245.54 L211.86,245.32 L214.11,245.10 L216.36,244.89 L218.61,244.67 L220.86,244.46 L223.11,244.25 L225.36,244.05 L227.62,243.85 L229.87,243.65 L232.12,243.45 L234.37,243.25 L236.62,243.06 L238.87,242.87 L241.12,242.68 L243.38,242.50 L245.63,242.31 L247.88,242.13 L250.13,241.95 L252.38,241.78 L254.63,241.60 L256.88,241.43 L259.14,241.26 L261.39,241.09 L263.64,240.92 L265.89,240.76 L268.14,240.59 L270.39,240.43 L272.64,240.27 L274.89,240.11 L277.15,239.96 L279.40,239.80 L281.65,239.65 L283.90,239.50 L286.15,239.35 L288.40,239.20 L290.65,239.05 L292.91,238.90 L295.16,238.76 L297.41,238.61 L299.66,238.47 L301.91,238.33 L304.16,238.19 L306.41,238.05 L308.66,237.92 L310.92,237.78 L313.17,237.65 L315.42,237.52 L317.67,237.39 L319.92,237.26 L322.17,237.13 L324.42,237.01 L326.68,236.89 L328.93,236.76 L331.18,236.64 L333.43,236.53 L335.68,236.41 L337.93,236.30 L340.18,236.19 L342.44,236.08 L344.69,235.97 L346.94,235.86 L349.19,235.76 L351.44,235.65 L353.69,235.55 L355.94,235.45 L358.19,235.35 L360.45,235.24 L362.70,235.14 L364.95,235.04 L367.20,234.95 L369.45,234.85 L371.70,234.75 L373.95,234.65 L376.21,234.55 L378.46,234.45 L380.71,234.34 L382.96,234.24 L385.21,234.14 L387.46,234.04 L389.71,233.94 L391.96,233.84 L394.22,233.74 L396.47,233.64 L398.72,233.53 L400.97,233.43 L403.22,233.33 L405.47,233.23 L407.72,233.13 L409.98,233.03 L412.23,232.94 L414.48,232.84 L416.73,232.74 L418.98,232.64 L421.23,232.54 L423.48,232.44 L425.74,232.34 L427.99,232.25 L430.24,232.15 L432.49,232.05 L434.74,231.96 L436.99,231.86 L439.24,231.77 L441.49,231.68 L443.75,231.59 L446.00,231.50 L448.25,231.41 L450.50,231.32 L452.75,231.23 L455.00,231.14 L457.25,231.05 L459.51,230.96 L461.76,230.87 L464.01,230.78 L466.26,230.68 L468.51,230.58 L470.76,230.48 L473.01,230.38 L475.26,230.28 L477.52,230.17 L479.77,230.06 L482.02,229.95 L484.27,229.83 L486.52,229.71 L488.77,229.59 L491.02,229.46 L493.28,229.33 L495.53,229.19 L497.78,229.06 L500.03,228.92 L502.28,228.78 L504.53,228.63 L506.78,228.49 L509.04,228.34 L511.29,228.19 L513.54,228.05 L515.79,227.90 L518.04,227.75 L520.29,227.59 L522.54,227.44 L524.79,227.29 L527.05,227.14 L529.30,226.99 L531.55,226.84 L533.80,226.69 L536.05,226.55 L538.30,226.40 L540.55,226.25 L542.81,226.10 L545.06,225.95 L547.31,225.79 L549.56,225.64 L551.81,225.49 L554.06,225.33 L556.31,225.18 L558.56,225.02 L560.82,224.86 L563.07,224.70 L565.32,224.54 L567.57,224.38 L569.82,224.21 L572.07,224.04 L574.32,223.87 L576.58,223.70 L578.83,223.52 L581.08,223.34 L583.33,223.16 L585.58,222.96 L587.83,222.76 L590.08,222.56 L592.34,222.36 L594.59,222.16 L596.84,221.96 L599.09,221.76 L601.34,221.55 L603.59,221.34 L605.84,221.12 L608.09,220.89 L610.35,220.65 L612.60,220.41 L614.85,220.16 L617.10,219.90" fill="none" stroke="#DA2F3C" stroke-width="1.25" stroke-opacity="1" stroke-linejoin="round"/>
<path d="M34.00,274.30 L36.23,274.13 L38.45,273.95 L40.68,273.72 L42.90,273.46 L45.13,273.17 L47.35,272.85 L49.58,272.50 L51.80,272.13 L54.03,271.73 L56.25,271.32 L58.48,270.90 L60.71,270.46 L62.93,270.02 L65.16,269.57 L67.38,269.12 L69.61,268.66 L71.83,268.21 L74.06,267.77 L76.28,267.34 L78.51,266.92 L80.74,266.51 L82.96,266.12 L85.19,265.75 L87.41,265.37 L89.64,265.00 L91.86,264.63 L94.09,264.26 L96.31,263.89 L98.54,263.52 L100.76,263.15 L102.99,262.79 L105.22,262.42 L107.44,262.06 L109.67,261.71 L111.89,261.35 L114.12,261.01 L116.34,260.66 L118.57,260.32 L120.79,259.98 L123.02,259.65 L125.24,259.33 L127.47,259.01 L129.70,258.70 L131.92,258.39 L134.15,258.09 L136.37,257.80 L138.60,257.50 L140.82,257.22 L143.05,256.93 L145.27,256.65 L147.50,256.37 L149.73,256.09 L151.95,255.82 L154.18,255.56 L156.40,255.29 L158.63,255.03 L160.85,254.77 L163.08,254.51 L165.30,254.25 L167.53,254.02 L169.75,253.78 L171.98,253.54 L174.21,253.28 L176.43,253.07 L178.66,252.88 L180.88,252.68 L183.11,252.46 L185.33,252.25 L187.56,252.05 L189.78,251.82 L192.01,251.60 L194.23,251.43 L196.46,251.23 L198.69,250.98 L200.91,250.78 L203.14,250.57 L205.36,250.38 L207.59,250.14 L209.81,249.95 L212.04,249.77 L214.26,249.60 L216.49,249.37 L218.72,249.20 L220.94,249.04 L223.17,248.84 L225.39,248.67 L227.62,248.48 L229.84,248.39 L232.07,248.30 L234.29,248.19 L236.52,248.07 L238.74,247.95 L240.97,247.79 L243.20,247.69 L245.42,247.61 L247.65,247.47 L249.87,247.33 L252.10,247.10 L254.32,246.94 L256.55,246.83 L258.77,246.64 L261.00,246.52 L263.22,246.42 L265.45,246.23 L267.68,246.19 L269.90,245.99 L272.13,245.76 L274.35,245.61 L276.58,245.51 L278.80,245.43 L281.03,245.30 L283.25,245.19 L285.48,245.04 L287.71,244.84 L289.93,244.74 L292.16,244.80 L294.38,244.54 L296.61,244.45 L298.83,244.28 L301.06,244.08 L303.28,243.97 L305.51,243.87 L307.73,243.71 L309.96,243.58 L312.19,243.45 L314.41,243.49 L316.64,243.28 L318.86,243.23 L321.09,243.23 L323.31,243.01 L325.54,242.94 L327.76,242.91 L329.99,242.81 L332.21,242.62 L334.44,242.47 L336.67,242.40 L338.89,242.26 L341.12,242.11 L343.34,242.13 L345.57,242.04 L347.79,242.02 L350.02,242.05 L352.24,242.04 L354.47,242.10 L356.69,241.97 L358.92,241.98 L361.15,241.92 L363.37,241.89 L365.60,241.91 L367.82,241.66 L370.05,241.46 L372.27,241.40 L374.50,241.24 L376.72,241.26 L378.95,241.14 L381.18,241.11 L383.40,240.97 L385.63,240.79 L387.85,240.90 L390.08,240.76 L392.30,240.69 L394.53,240.51 L396.75,240.46 L398.98,240.38 L401.20,240.24 L403.43,240.15 L405.66,240.04 L407.88,239.86 L410.11,239.83 L412.33,239.73 L414.56,239.76 L416.78,239.69 L419.01,239.63 L421.23,239.68 L423.46,239.59 L425.68,239.57 L427.91,239.59 L430.14,239.68 L432.36,239.59 L434.59,239.47 L436.81,239.32 L439.04,239.26 L441.26,239.07 L443.49,239.06 L445.71,238.96 L447.94,238.88 L450.17,238.69 L452.39,238.65 L454.62,238.61 L456.84,238.52 L459.07,238.55 L461.29,238.55 L463.52,238.51 L465.74,238.51 L467.97,238.36 L470.19,238.30 L472.42,238.22 L474.65,238.11 L476.87,238.05 L479.10,237.82 L481.32,237.60 L483.55,237.38 L485.77,237.09 L488.00,237.06 L490.22,236.94 L492.45,236.78 L494.67,236.66 L496.90,236.57 L499.13,236.40 L501.35,236.30 L503.58,236.15 L505.80,236.05 L508.03,235.86 L510.25,235.89 L512.48,235.76 L514.70,235.70 L516.93,235.49 L519.16,235.48 L521.38,235.45 L523.61,235.39 L525.83,235.43 L528.06,235.47 L530.28,235.26 L532.51,235.21 L534.73,234.99 L536.96,234.99 L539.18,234.83 L541.41,234.78 L543.64,234.66 L545.86,234.60 L548.09,234.25 L550.31,234.09 L552.54,234.01 L554.76,233.91 L556.99,233.68 L559.21,233.54 L561.44,233.25 L563.66,233.10 L565.89,232.98 L568.12,233.00 L570.34,232.77 L572.57,232.48 L574.79,232.27 L577.02,232.18 L579.24,231.92 L581.47,231.73 L583.69,231.47 L585.92,231.02 L588.15,230.54 L590.37,230.15 L592.60,229.73 L594.82,229.35 L597.05,228.80 L599.27,228.53 L601.50,228.17 L603.72,227.77 L605.95,227.46 L608.17,227.17 L610.40,226.78" fill="none" stroke="#A6DBA0" stroke-width="1.00" stroke-opacity="1" stroke-linejoin="round" stroke-dasharray="3.3 2.5"/>
</g>
<path d="M34.0,221.0 V284.5 H630.04 M34.00,284.5 v-5.5 M83.67,284.5 v-5.5 M133.34,284.5 v-5.5 M183.01,284.5 v-5.5 M232.68,284.5 v-5.5 M282.35,284.5 v-5.5 M332.02,284.5 v-5.5 M381.69,284.5 v-5.5 M431.36,284.5 v-5.5 M481.03,284.5 v-5.5 M530.70,284.5 v-5.5 M580.37,284.5 v-5.5 M630.04,284.5 v-5.5 M34.0,284.50 h5.5 M34.0,255.40 h5.5 M34.0,226.30 h5.5" stroke="#bcbcbc" stroke-width="0.9" fill="none"/>
<g font-size="10.8" text-anchor="middle">
<text x="34.00" y="300.1">0</text>
<text x="83.67" y="300.1">1</text>
<text x="133.34" y="300.1">2</text>
<text x="183.01" y="300.1">3</text>
<text x="232.68" y="300.1">4</text>
<text x="282.35" y="300.1">5</text>
<text x="332.02" y="300.1">6</text>
<text x="381.69" y="300.1">7</text>
<text x="431.36" y="300.1">8</text>
<text x="481.03" y="300.1">9</text>
<text x="530.70" y="300.1">10</text>
<text x="580.37" y="300.1">11</text>
<text x="630.04" y="300.1">12</text>
</g>
<g font-size="10.8" text-anchor="end">
<text x="30" y="289.10">20</text>
<text x="30" y="260.00">30</text>
<text x="30" y="230.90">40</text>
</g>
<text transform="translate(13.6,190.1) rotate(-90)" font-size="13.4" text-anchor="end">Cell Temperature / °C</text>
<text x="332" y="316.1" font-size="13.5" text-anchor="middle">Discharge Capacity / Ah</text>
<rect x="66.4" y="123.0" width="129.00" height="65.20" fill="#fff"/>
<path d="M77.15,123.0 V188.2 M87.90,123.0 V188.2 M98.65,123.0 V188.2 M109.40,123.0 V188.2 M120.15,123.0 V188.2 M141.65,123.0 V188.2 M152.40,123.0 V188.2 M163.15,123.0 V188.2 M173.90,123.0 V188.2 M184.65,123.0 V188.2 M66.4,129.52 H195.4 M66.4,136.04 H195.4 M66.4,142.56 H195.4 M66.4,149.08 H195.4 M66.4,155.60 H195.4 M66.4,162.12 H195.4 M66.4,168.64 H195.4 M66.4,175.16 H195.4 M66.4,181.68 H195.4" stroke="#f6f6f6" stroke-width="0.5" fill="none"/>
<path d="M130.90,123.0 V188.2 M66.4,175.16 H195.4 M66.4,162.12 H195.4 M66.4,149.08 H195.4 M66.4,136.04 H195.4" stroke="#ededed" stroke-width="0.7" fill="none"/>
<clipPath id="ci1"><rect x="66.4" y="123.0" width="129.00" height="65.20"/></clipPath>
<g clip-path="url(#ci1)">
<path d="M66.40,162.51 L67.85,161.51 L69.30,162.40 L70.75,162.31 L72.20,162.49 L73.65,162.70 L75.10,162.40 L76.55,163.00 L78.00,163.00 L79.44,164.20 L80.89,163.58 L82.34,163.59 L83.79,163.77 L85.24,163.83 L86.69,163.89 L88.14,164.22 L89.59,164.60 L91.04,164.58 L92.49,165.04 L93.94,164.91 L95.39,165.13 L96.84,165.68 L98.29,165.59 L99.74,165.50 L101.19,165.75 L102.64,166.10 L104.09,166.61 L105.53,166.23 L106.98,166.41 L108.43,166.89 L109.88,166.59 L111.33,166.91 L112.78,167.38 L114.23,167.48 L115.68,167.53 L117.13,167.85 L118.58,167.16 L120.03,168.30 L121.48,167.98 L122.93,167.98 L124.38,168.65 L125.83,168.94 L127.28,168.83 L128.73,168.86 L130.18,169.31 L131.62,169.48 L133.07,170.03 L134.52,170.05 L135.97,170.10 L137.42,170.52 L138.87,170.37 L140.32,170.38 L141.77,170.95 L143.22,171.14 L144.67,171.13 L146.12,171.18 L147.57,171.63 L149.02,171.14 L150.47,172.13 L151.92,172.28 L153.37,171.94 L154.82,172.57 L156.27,172.51 L157.71,173.14 L159.16,172.64 L160.61,173.12 L162.06,173.73 L163.51,174.04 L164.96,173.41 L166.41,174.03 L167.86,174.44 L169.31,174.41 L170.76,175.17 L172.21,174.68 L173.66,175.28 L175.11,175.13 L176.56,175.96 L178.01,175.81 L179.46,175.93 L180.91,175.81 L182.36,176.87 L183.80,176.85 L185.25,177.07 L186.70,177.38 L188.15,177.40 L189.60,177.37 L191.05,177.54 L192.50,177.76 L193.95,178.52 L195.40,178.03" fill="none" stroke="#A6DBA0" stroke-width="1.03" stroke-opacity="1" stroke-linejoin="round"/>
<path d="M66.40,146.45 L67.85,146.65 L69.30,146.93 L70.75,147.15 L72.20,146.83 L73.65,146.85 L75.10,147.42 L76.55,147.86 L78.00,147.88 L79.44,147.89 L80.89,147.90 L82.34,148.19 L83.79,148.20 L85.24,148.61 L86.69,148.35 L88.14,148.73 L89.59,148.82 L91.04,149.13 L92.49,149.19 L93.94,149.92 L95.39,149.81 L96.84,149.96 L98.29,149.23 L99.74,149.80 L101.19,149.89 L102.64,150.33 L104.09,149.78 L105.53,150.80 L106.98,150.93 L108.43,150.49 L109.88,150.73 L111.33,150.93 L112.78,151.30 L114.23,151.61 L115.68,152.13 L117.13,151.73 L118.58,152.13 L120.03,152.14 L121.48,152.70 L122.93,152.61 L124.38,152.94 L125.83,152.49 L127.28,152.88 L128.73,152.89 L130.18,153.64 L131.62,153.60 L133.07,153.53 L134.52,153.66 L135.97,154.07 L137.42,153.95 L138.87,154.06 L140.32,154.59 L141.77,155.26 L143.22,154.76 L144.67,154.86 L146.12,154.88 L147.57,155.02 L149.02,155.67 L150.47,155.93 L151.92,155.90 L153.37,156.16 L154.82,156.29 L156.27,156.48 L157.71,156.25 L159.16,156.70 L160.61,157.03 L162.06,156.99 L163.51,157.25 L164.96,157.36 L166.41,157.67 L167.86,158.15 L169.31,158.03 L170.76,158.28 L172.21,158.72 L173.66,158.87 L175.11,159.32 L176.56,158.57 L178.01,159.50 L179.46,159.37 L180.91,159.72 L182.36,160.09 L183.80,160.35 L185.25,160.54 L186.70,160.52 L188.15,161.08 L189.60,160.81 L191.05,161.05 L192.50,161.49 L193.95,161.36 L195.40,162.24" fill="none" stroke="#3288BD" stroke-width="1.26" stroke-opacity="1" stroke-linejoin="round"/>
<path d="M66.40,139.95 L67.85,140.39 L69.30,139.98 L70.75,140.04 L72.20,140.33 L73.65,140.62 L75.10,140.44 L76.55,140.83 L78.00,140.88 L79.44,141.44 L80.89,141.02 L82.34,141.60 L83.79,141.34 L85.24,141.41 L86.69,141.63 L88.14,141.67 L89.59,142.16 L91.04,142.54 L92.49,142.48 L93.94,142.76 L95.39,143.17 L96.84,142.99 L98.29,143.13 L99.74,143.18 L101.19,143.01 L102.64,143.77 L104.09,143.30 L105.53,144.07 L106.98,144.07 L108.43,144.52 L109.88,144.39 L111.33,144.38 L112.78,144.84 L114.23,144.78 L115.68,145.05 L117.13,145.28 L118.58,145.41 L120.03,145.57 L121.48,145.58 L122.93,145.92 L124.38,145.61 L125.83,146.28 L127.28,146.20 L128.73,146.96 L130.18,147.18 L131.62,146.55 L133.07,147.26 L134.52,147.37 L135.97,147.33 L137.42,147.91 L138.87,147.84 L140.32,147.70 L141.77,148.26 L143.22,148.48 L144.67,148.73 L146.12,148.59 L147.57,149.24 L149.02,149.46 L150.47,149.18 L151.92,149.49 L153.37,149.83 L154.82,149.90 L156.27,150.68 L157.71,150.49 L159.16,150.38 L160.61,150.63 L162.06,151.01 L163.51,151.80 L164.96,151.38 L166.41,151.66 L167.86,151.95 L169.31,152.02 L170.76,152.80 L172.21,152.30 L173.66,152.82 L175.11,152.88 L176.56,153.20 L178.01,152.96 L179.46,153.91 L180.91,153.64 L182.36,153.89 L183.80,153.86 L185.25,154.12 L186.70,154.65 L188.15,154.97 L189.60,155.13 L191.05,155.46 L192.50,155.55 L193.95,155.59 L195.40,156.01" fill="none" stroke="#FDB366" stroke-width="1.26" stroke-opacity="1" stroke-linejoin="round"/>
<path d="M66.40,138.65 L67.85,138.62 L69.30,138.97 L70.75,139.25 L72.20,139.14 L73.65,139.13 L75.10,139.55 L76.55,139.99 L78.00,139.61 L79.44,139.79 L80.89,139.93 L82.34,140.42 L83.79,139.81 L85.24,140.51 L86.69,140.88 L88.14,140.53 L89.59,141.26 L91.04,141.18 L92.49,141.06 L93.94,141.41 L95.39,141.13 L96.84,141.53 L98.29,142.29 L99.74,141.77 L101.19,142.62 L102.64,142.30 L104.09,142.73 L105.53,142.66 L106.98,142.25 L108.43,142.83 L109.88,143.19 L111.33,143.02 L112.78,143.14 L114.23,143.74 L115.68,143.66 L117.13,143.57 L118.58,143.99 L120.03,144.55 L121.48,144.39 L122.93,144.91 L124.38,145.24 L125.83,145.04 L127.28,144.92 L128.73,145.06 L130.18,145.55 L131.62,145.96 L133.07,145.99 L134.52,146.24 L135.97,146.17 L137.42,146.54 L138.87,146.53 L140.32,146.75 L141.77,146.69 L143.22,146.80 L144.67,147.26 L146.12,147.29 L147.57,147.52 L149.02,148.11 L150.47,148.11 L151.92,149.05 L153.37,148.75 L154.82,148.55 L156.27,149.09 L157.71,149.18 L159.16,149.12 L160.61,149.76 L162.06,149.48 L163.51,149.11 L164.96,150.27 L166.41,150.12 L167.86,150.84 L169.31,150.51 L170.76,150.57 L172.21,151.46 L173.66,151.00 L175.11,151.53 L176.56,152.04 L178.01,151.91 L179.46,152.07 L180.91,152.32 L182.36,152.71 L183.80,152.51 L185.25,153.07 L186.70,153.27 L188.15,153.92 L189.60,153.46 L191.05,153.53 L192.50,154.16 L193.95,154.09 L195.40,154.47" fill="none" stroke="#DA2F3C" stroke-width="1.44" stroke-opacity="1" stroke-linejoin="round"/>
<path d="M66.40,140.63 L67.85,141.04 L69.30,140.73 L70.75,141.02 L72.20,140.55 L73.65,141.12 L75.10,141.88 L76.55,141.47 L78.00,141.62 L79.44,141.64 L80.89,142.25 L82.34,142.30 L83.79,142.11 L85.24,142.73 L86.69,142.79 L88.14,143.07 L89.59,142.88 L91.04,143.63 L92.49,143.46 L93.94,143.49 L95.39,143.55 L96.84,143.78 L98.29,144.22 L99.74,144.11 L101.19,144.61 L102.64,144.65 L104.09,145.01 L105.53,145.04 L106.98,144.99 L108.43,144.70 L109.88,145.42 L111.33,145.71 L112.78,145.73 L114.23,146.00 L115.68,145.92 L117.13,146.11 L118.58,146.15 L120.03,146.90 L121.48,146.77 L122.93,146.79 L124.38,146.76 L125.83,147.23 L127.28,147.81 L128.73,147.74 L130.18,147.63 L131.62,148.35 L133.07,148.53 L134.52,148.60 L135.97,148.74 L137.42,149.02 L138.87,149.05 L140.32,149.29 L141.77,149.09 L143.22,149.85 L144.67,149.72 L146.12,150.36 L147.57,149.54 L149.02,150.41 L150.47,150.68 L151.92,150.54 L153.37,150.93 L154.82,151.20 L156.27,151.35 L157.71,151.27 L159.16,151.57 L160.61,152.06 L162.06,152.32 L163.51,152.22 L164.96,152.42 L166.41,152.65 L167.86,153.06 L169.31,152.74 L170.76,152.88 L172.21,153.45 L173.66,153.34 L175.11,153.68 L176.56,154.06 L178.01,154.36 L179.46,154.18 L180.91,154.86 L182.36,154.43 L183.80,155.22 L185.25,154.90 L186.70,155.19 L188.15,155.88 L189.60,155.83 L191.05,155.95 L192.50,156.25 L193.95,156.70 L195.40,156.79" fill="none" stroke="#A6DBA0" stroke-width="1.15" stroke-opacity="1" stroke-linejoin="round" stroke-dasharray="3.3 2.5"/>
<path d="M66.40,144.79 L67.85,145.20 L69.30,144.90 L70.75,145.10 L72.20,145.23 L73.65,145.80 L75.10,145.90 L76.55,146.12 L78.00,145.93 L79.44,146.05 L80.89,146.45 L82.34,146.28 L83.79,146.74 L85.24,146.86 L86.69,146.66 L88.14,146.96 L89.59,147.10 L91.04,147.72 L92.49,148.09 L93.94,147.57 L95.39,147.75 L96.84,147.33 L98.29,148.11 L99.74,148.22 L101.19,148.11 L102.64,148.73 L104.09,148.30 L105.53,148.80 L106.98,149.05 L108.43,148.87 L109.88,149.56 L111.33,149.77 L112.78,149.33 L114.23,149.49 L115.68,150.15 L117.13,150.16 L118.58,150.04 L120.03,150.43 L121.48,150.65 L122.93,150.81 L124.38,151.23 L125.83,151.29 L127.28,151.81 L128.73,151.88 L130.18,151.88 L131.62,152.16 L133.07,152.39 L134.52,152.42 L135.97,152.11 L137.42,152.81 L138.87,152.79 L140.32,153.36 L141.77,153.16 L143.22,153.45 L144.67,153.58 L146.12,154.11 L147.57,153.91 L149.02,153.99 L150.47,154.32 L151.92,154.32 L153.37,154.65 L154.82,154.80 L156.27,155.06 L157.71,155.66 L159.16,155.27 L160.61,155.57 L162.06,155.71 L163.51,156.12 L164.96,155.85 L166.41,156.16 L167.86,156.52 L169.31,156.87 L170.76,156.91 L172.21,157.00 L173.66,157.11 L175.11,157.65 L176.56,158.08 L178.01,158.00 L179.46,158.17 L180.91,158.44 L182.36,158.30 L183.80,158.66 L185.25,158.87 L186.70,159.22 L188.15,159.35 L189.60,159.26 L191.05,160.05 L192.50,160.40 L193.95,160.12 L195.40,160.50" fill="none" stroke="#A6DBA0" stroke-width="0.92" stroke-opacity="0.65" stroke-linejoin="round"/>
</g>
<path d="M66.4,123.0 H195.4 V188.2 H66.4 Z M130.90,188.2 v-2.5 M130.90,123.0 v2.5 M66.4,175.16 h2.5 M195.4,175.16 h-2.5 M66.4,162.12 h2.5 M195.4,162.12 h-2.5 M66.4,149.08 h2.5 M195.4,149.08 h-2.5 M66.4,136.04 h2.5 M195.4,136.04 h-2.5" stroke="#bcbcbc" stroke-width="0.9" fill="none"/>
<g font-size="10.15" text-anchor="middle">
<text x="66.40" y="202.20">0.9</text>
<text x="130.90" y="202.20">1.2</text>
<text x="195.40" y="202.20">1.5</text>
</g>
<g font-size="10.15" text-anchor="end">
<text x="63.20" y="192.60">3.88</text>
<text x="63.20" y="179.56">3.9</text>
<text x="63.20" y="166.52">3.92</text>
<text x="63.20" y="153.48">3.94</text>
<text x="63.20" y="140.44">3.96</text>
<text x="63.20" y="127.40">3.98</text>
</g>
<rect x="227.4" y="123.0" width="129.40" height="65.20" fill="#fff"/>
<path d="M238.18,123.0 V188.2 M248.97,123.0 V188.2 M259.75,123.0 V188.2 M270.53,123.0 V188.2 M281.32,123.0 V188.2 M302.88,123.0 V188.2 M313.67,123.0 V188.2 M324.45,123.0 V188.2 M335.23,123.0 V188.2 M346.02,123.0 V188.2 M227.4,129.52 H356.8 M227.4,136.04 H356.8 M227.4,142.56 H356.8 M227.4,149.08 H356.8 M227.4,155.60 H356.8 M227.4,162.12 H356.8 M227.4,168.64 H356.8 M227.4,175.16 H356.8 M227.4,181.68 H356.8" stroke="#f6f6f6" stroke-width="0.5" fill="none"/>
<path d="M292.10,123.0 V188.2 M227.4,155.60 H356.8" stroke="#ededed" stroke-width="0.7" fill="none"/>
<clipPath id="ci2"><rect x="227.4" y="123.0" width="129.40" height="65.20"/></clipPath>
<g clip-path="url(#ci2)">
<path d="M227.40,135.47 L228.85,135.96 L230.31,135.75 L231.76,136.89 L233.22,136.73 L234.67,137.52 L236.12,137.59 L237.58,137.83 L239.03,138.25 L240.49,138.87 L241.94,138.79 L243.39,139.27 L244.85,139.60 L246.30,139.65 L247.76,140.76 L249.21,140.93 L250.66,141.14 L252.12,141.79 L253.57,141.61 L255.02,142.19 L256.48,142.99 L257.93,143.15 L259.39,142.71 L260.84,142.78 L262.29,143.71 L263.75,144.58 L265.20,144.55 L266.66,144.96 L268.11,145.52 L269.56,145.49 L271.02,146.11 L272.47,146.61 L273.93,146.87 L275.38,147.20 L276.83,147.30 L278.29,147.92 L279.74,148.03 L281.20,148.81 L282.65,149.47 L284.10,148.98 L285.56,148.97 L287.01,149.75 L288.47,150.29 L289.92,150.80 L291.37,151.15 L292.83,151.02 L294.28,151.36 L295.73,152.22 L297.19,151.97 L298.64,152.85 L300.10,152.86 L301.55,153.44 L303.00,153.77 L304.46,154.12 L305.91,154.47 L307.37,154.35 L308.82,155.01 L310.27,155.27 L311.73,155.68 L313.18,156.24 L314.64,156.20 L316.09,156.42 L317.54,156.75 L319.00,157.18 L320.45,157.78 L321.91,157.72 L323.36,158.54 L324.81,158.65 L326.27,158.85 L327.72,158.91 L329.18,159.63 L330.63,160.07 L332.08,159.78 L333.54,160.85 L334.99,161.29 L336.44,161.28 L337.90,161.65 L339.35,162.45 L340.81,162.48 L342.26,162.27 L343.71,162.81 L345.17,163.10 L346.62,163.42 L348.08,163.19 L349.53,164.29 L350.98,164.26 L352.44,164.78 L353.89,165.03 L355.35,165.60 L356.80,165.63" fill="none" stroke="#A6DBA0" stroke-width="1.03" stroke-opacity="1" stroke-linejoin="round"/>
<path d="M227.40,132.40 L228.85,133.10 L230.31,133.68 L231.76,133.61 L233.22,134.40 L234.67,134.49 L236.12,134.65 L237.58,135.53 L239.03,135.30 L240.49,136.12 L241.94,136.10 L243.39,136.70 L244.85,136.64 L246.30,137.10 L247.76,137.93 L249.21,138.07 L250.66,138.39 L252.12,138.62 L253.57,139.20 L255.02,139.10 L256.48,139.52 L257.93,140.12 L259.39,140.30 L260.84,140.69 L262.29,141.20 L263.75,141.54 L265.20,141.87 L266.66,142.69 L268.11,142.88 L269.56,143.28 L271.02,143.32 L272.47,143.55 L273.93,143.66 L275.38,144.29 L276.83,144.20 L278.29,144.93 L279.74,145.61 L281.20,146.17 L282.65,146.35 L284.10,146.24 L285.56,146.93 L287.01,146.95 L288.47,147.70 L289.92,147.81 L291.37,148.39 L292.83,149.16 L294.28,149.09 L295.73,149.79 L297.19,149.59 L298.64,149.80 L300.10,150.56 L301.55,151.00 L303.00,150.77 L304.46,151.26 L305.91,151.22 L307.37,151.87 L308.82,152.48 L310.27,152.57 L311.73,152.79 L313.18,152.91 L314.64,153.69 L316.09,154.14 L317.54,154.42 L319.00,154.67 L320.45,154.62 L321.91,155.71 L323.36,155.59 L324.81,155.90 L326.27,156.45 L327.72,156.05 L329.18,156.91 L330.63,157.22 L332.08,157.68 L333.54,158.25 L334.99,158.36 L336.44,158.11 L337.90,158.81 L339.35,159.27 L340.81,159.58 L342.26,159.55 L343.71,159.78 L345.17,160.66 L346.62,160.93 L348.08,161.16 L349.53,161.06 L350.98,162.26 L352.44,161.41 L353.89,162.37 L355.35,163.30 L356.80,163.06" fill="none" stroke="#3288BD" stroke-width="1.26" stroke-opacity="1" stroke-linejoin="round"/>
<path d="M227.40,128.96 L228.85,128.98 L230.31,129.98 L231.76,129.69 L233.22,130.45 L234.67,130.79 L236.12,130.86 L237.58,131.71 L239.03,131.51 L240.49,132.06 L241.94,132.59 L243.39,132.86 L244.85,133.44 L246.30,133.92 L247.76,133.98 L249.21,134.29 L250.66,134.66 L252.12,135.06 L253.57,135.71 L255.02,135.82 L256.48,136.34 L257.93,136.58 L259.39,136.75 L260.84,137.54 L262.29,137.42 L263.75,138.04 L265.20,138.77 L266.66,138.48 L268.11,139.10 L269.56,139.08 L271.02,139.70 L272.47,139.81 L273.93,140.45 L275.38,140.76 L276.83,141.29 L278.29,142.00 L279.74,142.03 L281.20,142.48 L282.65,142.66 L284.10,142.96 L285.56,143.16 L287.01,143.27 L288.47,144.09 L289.92,144.83 L291.37,144.89 L292.83,144.99 L294.28,145.89 L295.73,145.71 L297.19,146.02 L298.64,146.21 L300.10,146.62 L301.55,147.15 L303.00,148.06 L304.46,147.85 L305.91,147.99 L307.37,148.44 L308.82,148.88 L310.27,148.85 L311.73,149.65 L313.18,150.14 L314.64,150.39 L316.09,150.80 L317.54,150.67 L319.00,150.90 L320.45,151.99 L321.91,152.28 L323.36,151.96 L324.81,152.74 L326.27,153.03 L327.72,153.50 L329.18,153.75 L330.63,153.91 L332.08,154.42 L333.54,154.74 L334.99,155.03 L336.44,154.91 L337.90,154.96 L339.35,155.84 L340.81,155.96 L342.26,156.77 L343.71,157.22 L345.17,157.43 L346.62,157.61 L348.08,158.05 L349.53,158.65 L350.98,158.51 L352.44,159.25 L353.89,159.52 L355.35,159.74 L356.80,160.36" fill="none" stroke="#FDB366" stroke-width="1.26" stroke-opacity="1" stroke-linejoin="round"/>
<path d="M227.40,127.32 L228.85,128.11 L230.31,128.01 L231.76,128.42 L233.22,128.72 L234.67,129.46 L236.12,129.49 L237.58,130.10 L239.03,130.17 L240.49,131.09 L241.94,131.65 L243.39,131.62 L244.85,132.34 L246.30,132.43 L247.76,133.20 L249.21,133.05 L250.66,132.99 L252.12,134.12 L253.57,134.08 L255.02,134.22 L256.48,134.67 L257.93,134.79 L259.39,135.52 L260.84,135.65 L262.29,136.65 L263.75,136.81 L265.20,136.58 L266.66,136.98 L268.11,137.57 L269.56,137.59 L271.02,138.40 L272.47,138.78 L273.93,138.95 L275.38,139.36 L276.83,139.98 L278.29,140.56 L279.74,140.94 L281.20,140.92 L282.65,141.48 L284.10,141.44 L285.56,142.08 L287.01,142.08 L288.47,142.86 L289.92,142.72 L291.37,143.13 L292.83,143.72 L294.28,144.21 L295.73,144.06 L297.19,144.64 L298.64,145.15 L300.10,145.52 L301.55,145.60 L303.00,146.18 L304.46,146.44 L305.91,147.20 L307.37,147.33 L308.82,147.20 L310.27,147.33 L311.73,148.25 L313.18,148.86 L314.64,148.95 L316.09,149.47 L317.54,149.47 L319.00,149.59 L320.45,150.46 L321.91,150.63 L323.36,151.12 L324.81,150.94 L326.27,151.67 L327.72,151.80 L329.18,152.50 L330.63,152.49 L332.08,152.82 L333.54,153.16 L334.99,153.95 L336.44,153.98 L337.90,154.12 L339.35,154.38 L340.81,154.71 L342.26,155.67 L343.71,155.18 L345.17,155.76 L346.62,156.46 L348.08,156.92 L349.53,156.92 L350.98,157.48 L352.44,157.81 L353.89,158.19 L355.35,158.28 L356.80,159.01" fill="none" stroke="#DA2F3C" stroke-width="1.44" stroke-opacity="1" stroke-linejoin="round"/>
<path d="M227.40,136.85 L228.85,137.55 L230.31,137.25 L231.76,138.12 L233.22,137.93 L234.67,138.23 L236.12,139.09 L237.58,139.12 L239.03,139.80 L240.49,139.78 L241.94,140.80 L243.39,140.76 L244.85,140.83 L246.30,141.51 L247.76,142.05 L249.21,141.99 L250.66,142.66 L252.12,143.40 L253.57,143.46 L255.02,143.59 L256.48,143.81 L257.93,144.44 L259.39,144.27 L260.84,144.24 L262.29,145.18 L263.75,145.43 L265.20,146.49 L266.66,146.43 L268.11,146.50 L269.56,146.80 L271.02,147.57 L272.47,147.58 L273.93,147.99 L275.38,148.46 L276.83,148.85 L278.29,149.19 L279.74,149.54 L281.20,150.18 L282.65,150.63 L284.10,150.13 L285.56,151.53 L287.01,151.26 L288.47,151.88 L289.92,151.72 L291.37,152.33 L292.83,152.64 L294.28,152.95 L295.73,153.48 L297.19,153.76 L298.64,153.69 L300.10,154.25 L301.55,154.80 L303.00,155.12 L304.46,155.20 L305.91,155.55 L307.37,155.92 L308.82,156.01 L310.27,156.30 L311.73,157.35 L313.18,157.19 L314.64,157.64 L316.09,157.76 L317.54,158.60 L319.00,159.05 L320.45,158.88 L321.91,159.40 L323.36,159.41 L324.81,160.37 L326.27,160.49 L327.72,160.37 L329.18,161.22 L330.63,161.32 L332.08,161.66 L333.54,161.97 L334.99,162.04 L336.44,162.40 L337.90,163.01 L339.35,163.17 L340.81,163.27 L342.26,164.33 L343.71,164.09 L345.17,164.33 L346.62,164.61 L348.08,165.28 L349.53,165.67 L350.98,165.81 L352.44,166.28 L353.89,166.01 L355.35,166.61 L356.80,166.90" fill="none" stroke="#A6DBA0" stroke-width="1.15" stroke-opacity="1" stroke-linejoin="round" stroke-dasharray="3.3 2.5"/>
<path d="M227.40,142.52 L228.85,143.01 L230.31,142.75 L231.76,144.41 L233.22,143.78 L234.67,144.46 L236.12,144.95 L237.58,145.32 L239.03,145.53 L240.49,145.11 L241.94,145.94 L243.39,146.76 L244.85,146.71 L246.30,147.04 L247.76,147.08 L249.21,148.34 L250.66,148.53 L252.12,148.54 L253.57,149.09 L255.02,149.46 L256.48,149.57 L257.93,150.14 L259.39,150.63 L260.84,151.07 L262.29,151.60 L263.75,151.65 L265.20,151.89 L266.66,152.46 L268.11,152.56 L269.56,152.77 L271.02,153.72 L272.47,153.70 L273.93,154.18 L275.38,154.67 L276.83,154.58 L278.29,155.37 L279.74,155.68 L281.20,155.90 L282.65,156.37 L284.10,156.44 L285.56,156.43 L287.01,157.26 L288.47,157.45 L289.92,158.25 L291.37,158.45 L292.83,158.60 L294.28,159.09 L295.73,159.76 L297.19,160.06 L298.64,160.21 L300.10,160.58 L301.55,160.75 L303.00,161.13 L304.46,161.65 L305.91,161.82 L307.37,162.27 L308.82,162.26 L310.27,162.47 L311.73,162.80 L313.18,163.46 L314.64,164.24 L316.09,164.55 L317.54,164.34 L319.00,164.54 L320.45,165.47 L321.91,165.73 L323.36,165.61 L324.81,166.55 L326.27,166.67 L327.72,167.29 L329.18,167.39 L330.63,167.86 L332.08,168.05 L333.54,168.07 L334.99,168.58 L336.44,168.81 L337.90,169.52 L339.35,169.39 L340.81,169.59 L342.26,170.48 L343.71,170.93 L345.17,171.33 L346.62,171.58 L348.08,171.26 L349.53,171.79 L350.98,172.15 L352.44,172.61 L353.89,172.41 L355.35,173.27 L356.80,173.67" fill="none" stroke="#A6DBA0" stroke-width="0.92" stroke-opacity="0.65" stroke-linejoin="round"/>
</g>
<path d="M227.4,123.0 H356.8 V188.2 H227.4 Z M292.10,188.2 v-2.5 M292.10,123.0 v2.5 M227.4,155.60 h2.5 M356.8,155.60 h-2.5" stroke="#bcbcbc" stroke-width="0.9" fill="none"/>
<g font-size="10.15" text-anchor="middle">
<text x="227.40" y="202.20">5.7</text>
<text x="292.10" y="202.20">6</text>
<text x="356.80" y="202.20">6.3</text>
</g>
<g font-size="10.15" text-anchor="end">
<text x="224.20" y="192.60">3.5</text>
<text x="224.20" y="160.00">3.55</text>
<text x="224.20" y="127.40">3.6</text>
</g>
<rect x="408.2" y="123.0" width="128.90" height="65.20" fill="#fff"/>
<path d="M418.94,123.0 V188.2 M429.68,123.0 V188.2 M440.43,123.0 V188.2 M451.17,123.0 V188.2 M461.91,123.0 V188.2 M483.39,123.0 V188.2 M494.13,123.0 V188.2 M504.88,123.0 V188.2 M515.62,123.0 V188.2 M526.36,123.0 V188.2 M408.2,129.52 H537.1 M408.2,136.04 H537.1 M408.2,142.56 H537.1 M408.2,149.08 H537.1 M408.2,155.60 H537.1 M408.2,162.12 H537.1 M408.2,168.64 H537.1 M408.2,175.16 H537.1 M408.2,181.68 H537.1" stroke="#f6f6f6" stroke-width="0.5" fill="none"/>
<path d="M472.65,123.0 V188.2 M408.2,155.60 H537.1" stroke="#ededed" stroke-width="0.7" fill="none"/>
<clipPath id="ci3"><rect x="408.2" y="123.0" width="128.90" height="65.20"/></clipPath>
<g clip-path="url(#ci3)">
<path d="M434.45,120.00 L434.85,121.83 L435.24,123.65 L435.62,125.48 L436.00,127.30 L436.38,129.13 L436.75,130.95 L437.11,132.78 L437.47,134.61 L437.83,136.43 L438.18,138.26 L438.52,140.08 L438.86,141.91 L439.20,143.73 L439.53,145.56 L439.85,147.38 L440.17,149.21 L440.49,151.04 L440.79,152.86 L441.10,154.69 L441.40,156.51 L441.69,158.34 L441.98,160.16 L442.27,161.99 L442.55,163.82 L442.82,165.64 L443.09,167.47 L443.36,169.29 L443.62,171.12 L443.87,172.94 L444.12,174.77 L444.36,176.59 L444.60,178.42 L444.84,180.25 L445.07,182.07 L445.29,183.90 L445.51,185.72 L445.72,187.55 L445.93,189.37 L446.14,191.20" fill="none" stroke="#A6DBA0" stroke-width="1.03" stroke-opacity="1" stroke-linejoin="round"/>
<path d="M474.78,120.00 L475.22,121.83 L475.66,123.65 L476.09,125.48 L476.52,127.30 L476.94,129.13 L477.36,130.95 L477.77,132.78 L478.18,134.61 L478.58,136.43 L478.98,138.26 L479.37,140.08 L479.75,141.91 L480.14,143.73 L480.51,145.56 L480.89,147.38 L481.25,149.21 L481.62,151.04 L481.97,152.86 L482.33,154.69 L482.67,156.51 L483.02,158.34 L483.35,160.16 L483.68,161.99 L484.01,163.82 L484.33,165.64 L484.65,167.47 L484.96,169.29 L485.27,171.12 L485.57,172.94 L485.87,174.77 L486.16,176.59 L486.45,178.42 L486.73,180.25 L487.01,182.07 L487.28,183.90 L487.55,185.72 L487.81,187.55 L488.06,189.37 L488.32,191.20" fill="none" stroke="#3288BD" stroke-width="1.26" stroke-opacity="1" stroke-linejoin="round"/>
<path d="M489.94,120.00 L490.34,121.83 L490.74,123.65 L491.13,125.48 L491.52,127.30 L491.91,129.13 L492.28,130.95 L492.66,132.78 L493.03,134.61 L493.39,136.43 L493.75,138.26 L494.10,140.08 L494.45,141.91 L494.79,143.73 L495.13,145.56 L495.46,147.38 L495.79,149.21 L496.11,151.04 L496.43,152.86 L496.75,154.69 L497.05,156.51 L497.36,158.34 L497.65,160.16 L497.95,161.99 L498.24,163.82 L498.52,165.64 L498.80,167.47 L499.07,169.29 L499.34,171.12 L499.60,172.94 L499.86,174.77 L500.11,176.59 L500.36,178.42 L500.60,180.25 L500.84,182.07 L501.07,183.90 L501.30,185.72 L501.52,187.55 L501.74,189.37 L501.95,191.20" fill="none" stroke="#FDB366" stroke-width="1.26" stroke-opacity="1" stroke-linejoin="round"/>
<path d="M491.55,120.00 L491.95,121.83 L492.34,123.65 L492.72,125.48 L493.10,127.30 L493.48,129.13 L493.85,130.95 L494.21,132.78 L494.57,134.61 L494.93,136.43 L495.28,138.26 L495.62,140.08 L495.96,141.91 L496.30,143.73 L496.63,145.56 L496.95,147.38 L497.27,149.21 L497.59,151.04 L497.89,152.86 L498.20,154.69 L498.50,156.51 L498.79,158.34 L499.08,160.16 L499.37,161.99 L499.65,163.82 L499.92,165.64 L500.19,167.47 L500.46,169.29 L500.72,171.12 L500.97,172.94 L501.22,174.77 L501.46,176.59 L501.70,178.42 L501.94,180.25 L502.17,182.07 L502.39,183.90 L502.61,185.72 L502.82,187.55 L503.03,189.37 L503.24,191.20" fill="none" stroke="#DA2F3C" stroke-width="1.44" stroke-opacity="1" stroke-linejoin="round"/>
<path d="M462.13,120.00 L462.54,121.83 L462.94,123.65 L463.35,125.48 L463.74,127.30 L464.13,129.13 L464.52,130.95 L464.90,132.78 L465.28,134.61 L465.65,136.43 L466.02,138.26 L466.38,140.08 L466.74,141.91 L467.09,143.73 L467.43,145.56 L467.78,147.38 L468.11,149.21 L468.44,151.04 L468.77,152.86 L469.09,154.69 L469.41,156.51 L469.72,158.34 L470.03,160.16 L470.33,161.99 L470.62,163.82 L470.91,165.64 L471.20,167.47 L471.48,169.29 L471.76,171.12 L472.03,172.94 L472.30,174.77 L472.56,176.59 L472.81,178.42 L473.06,180.25 L473.31,182.07 L473.55,183.90 L473.79,185.72 L474.02,187.55 L474.24,189.37 L474.47,191.20" fill="none" stroke="#A6DBA0" stroke-width="1.15" stroke-opacity="1" stroke-linejoin="round" stroke-dasharray="3.3 2.5"/>
<path d="M443.63,120.00 L444.10,121.83 L444.56,123.65 L445.02,125.48 L445.47,127.30 L445.92,129.13 L446.37,130.95 L446.80,132.78 L447.24,134.61 L447.66,136.43 L448.09,138.26 L448.50,140.08 L448.92,141.91 L449.32,143.73 L449.73,145.56 L450.12,147.38 L450.52,149.21 L450.90,151.04 L451.29,152.86 L451.66,154.69 L452.04,156.51 L452.40,158.34 L452.77,160.16 L453.12,161.99 L453.48,163.82 L453.82,165.64 L454.16,167.47 L454.50,169.29 L454.83,171.12 L455.16,172.94 L455.48,174.77 L455.80,176.59 L456.11,178.42 L456.42,180.25 L456.72,182.07 L457.02,183.90 L457.31,185.72 L457.60,187.55 L457.88,189.37 L458.16,191.20" fill="none" stroke="#A6DBA0" stroke-width="0.92" stroke-opacity="0.65" stroke-linejoin="round"/>
</g>
<path d="M408.2,123.0 H537.1 V188.2 H408.2 Z M472.65,188.2 v-2.5 M472.65,123.0 v2.5 M408.2,155.60 h2.5 M537.1,155.60 h-2.5" stroke="#bcbcbc" stroke-width="0.9" fill="none"/>
<g font-size="10.15" text-anchor="middle">
<text x="408.20" y="202.20">11.3</text>
<text x="472.65" y="202.20">11.6</text>
<text x="537.10" y="202.20">11.9</text>
</g>
<g font-size="10.15" text-anchor="end">
<text x="405.00" y="192.60">2.7</text>
<text x="405.00" y="160.00">2.75</text>
<text x="405.00" y="127.40">2.8</text>
</g>
<g fill="none" stroke="#7a7a7a" stroke-width="0.55">
<rect x="76.3" y="25.3" width="28.3" height="12" rx="0.9"/>
<rect x="318.4" y="69.2" width="27.9" height="11.1" rx="0.9"/>
<rect x="597.1" y="158.6" width="28" height="11.8" rx="0.9"/>
<path d="M91,37.3 L130.2,121 M333,80.3 L292.4,121.5 M597.1,164.5 L538.5,156" stroke="#555" stroke-width="0.6"/>
</g>
<path d="M130.90,122.40 L127.06,118.68 L129.37,119.14 L130.50,117.07 Z" fill="#1a1a1a"/>
<path d="M291.40,122.50 L293.56,117.61 L293.93,119.94 L296.26,120.27 Z" fill="#1a1a1a"/>
<path d="M536.80,155.70 L542.02,154.54 L540.36,156.22 L541.47,158.30 Z" fill="#1a1a1a"/>
<rect x="345.5" y="5" width="281.80" height="27.5" fill="#fff" stroke="#b5b5b5" stroke-width="1"/>
<path d="M345.5,18.8 H627.3" stroke="#b5b5b5" stroke-width="1"/>
<text x="486.40" y="15.4" font-size="9.6" font-weight="bold" text-anchor="middle" fill="#000">1C-rate</text>
<path d="M347,25.6 H359.6" fill="none" stroke="#A6DBA0" stroke-width="0.90" stroke-opacity="1" stroke-linejoin="round"/>
<text x="361.9" y="29.7" font-size="9.6" fill="#111">Atm. 1</text>
<path d="M393.3,25.6 H405.8" fill="none" stroke="#3288BD" stroke-width="1.10" stroke-opacity="1" stroke-linejoin="round"/>
<text x="407.3" y="29.7" font-size="9.6" fill="#111">75 kPa</text>
<path d="M441,25.6 H453.6" fill="none" stroke="#FDB366" stroke-width="1.10" stroke-opacity="1" stroke-linejoin="round"/>
<text x="455" y="29.7" font-size="9.6" fill="#111">50 kPa</text>
<path d="M489,25.6 H501.6" fill="none" stroke="#DA2F3C" stroke-width="1.25" stroke-opacity="1" stroke-linejoin="round"/>
<text x="503.4" y="29.7" font-size="9.6" fill="#111">25 kPa</text>
<path d="M536.8,25.6 H549.4" fill="none" stroke="#A6DBA0" stroke-width="1.00" stroke-opacity="1" stroke-linejoin="round" stroke-dasharray="2.9 2.05"/>
<text x="551.6" y="29.7" font-size="9.6" fill="#111">Atm. 2</text>
<path d="M582.5,25.6 H595" fill="none" stroke="#A6DBA0" stroke-width="0.80" stroke-opacity="0.65" stroke-linejoin="round"/>
<text x="597.6" y="29.7" font-size="9.6" fill="#111">Atm. 3</text>
</svg>
</body></html>
